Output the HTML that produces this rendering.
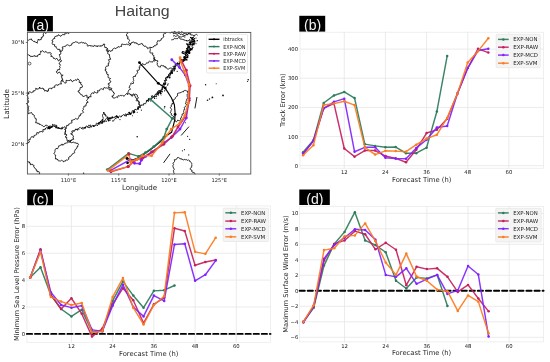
<!DOCTYPE html>
<html><head><meta charset="utf-8"><title>Haitang</title>
<style>html,body{margin:0;padding:0;background:#fff;}svg{display:block;filter:blur(0.3px);}</style>
</head><body>
<svg width="550" height="362" viewBox="0 0 550 362"><text x="142.2" y="15.7" font-size="15.1" text-anchor="middle" fill="#444" font-family="'Liberation Sans', 'DejaVu Sans', sans-serif" textLength="54.9" lengthAdjust="spacingAndGlyphs">Haitang</text>
<polyline points="300,165.7 543.4,165.7" fill="none" stroke="#e6e6e6" stroke-width="0.8" stroke-linejoin="round" stroke-linecap="round" />
<polyline points="300,136.55 543.4,136.55" fill="none" stroke="#e6e6e6" stroke-width="0.8" stroke-linejoin="round" stroke-linecap="round" />
<polyline points="300,107.4 543.4,107.4" fill="none" stroke="#e6e6e6" stroke-width="0.8" stroke-linejoin="round" stroke-linecap="round" />
<polyline points="300,78.25 543.4,78.25" fill="none" stroke="#e6e6e6" stroke-width="0.8" stroke-linejoin="round" stroke-linecap="round" />
<polyline points="300,49.1 543.4,49.1" fill="none" stroke="#e6e6e6" stroke-width="0.8" stroke-linejoin="round" stroke-linecap="round" />
<polyline points="344.26,32.2 344.26,168.2" fill="none" stroke="#e6e6e6" stroke-width="0.8" stroke-linejoin="round" stroke-linecap="round" />
<polyline points="385.42,32.2 385.42,168.2" fill="none" stroke="#e6e6e6" stroke-width="0.8" stroke-linejoin="round" stroke-linecap="round" />
<polyline points="426.58,32.2 426.58,168.2" fill="none" stroke="#e6e6e6" stroke-width="0.8" stroke-linejoin="round" stroke-linecap="round" />
<polyline points="467.74,32.2 467.74,168.2" fill="none" stroke="#e6e6e6" stroke-width="0.8" stroke-linejoin="round" stroke-linecap="round" />
<polyline points="508.9,32.2 508.9,168.2" fill="none" stroke="#e6e6e6" stroke-width="0.8" stroke-linejoin="round" stroke-linecap="round" />
<rect x="300" y="32.2" width="243.4" height="136" fill="none" stroke="#e8e8e8" stroke-width="0.7" />
<text x="298.1" y="167.65" font-size="5.3" text-anchor="end" fill="#141414" font-family="'DejaVu Sans', 'Liberation Sans', sans-serif" >0</text>
<text x="298.1" y="138.5" font-size="5.3" text-anchor="end" fill="#141414" font-family="'DejaVu Sans', 'Liberation Sans', sans-serif" >100</text>
<text x="298.1" y="109.35" font-size="5.3" text-anchor="end" fill="#141414" font-family="'DejaVu Sans', 'Liberation Sans', sans-serif" >200</text>
<text x="298.1" y="80.2" font-size="5.3" text-anchor="end" fill="#141414" font-family="'DejaVu Sans', 'Liberation Sans', sans-serif" >300</text>
<text x="298.1" y="51.05" font-size="5.3" text-anchor="end" fill="#141414" font-family="'DejaVu Sans', 'Liberation Sans', sans-serif" >400</text>
<text x="344.26" y="174.2" font-size="5.3" text-anchor="middle" fill="#141414" font-family="'DejaVu Sans', 'Liberation Sans', sans-serif" >12</text>
<text x="385.42" y="174.2" font-size="5.3" text-anchor="middle" fill="#141414" font-family="'DejaVu Sans', 'Liberation Sans', sans-serif" >24</text>
<text x="426.58" y="174.2" font-size="5.3" text-anchor="middle" fill="#141414" font-family="'DejaVu Sans', 'Liberation Sans', sans-serif" >36</text>
<text x="467.74" y="174.2" font-size="5.3" text-anchor="middle" fill="#141414" font-family="'DejaVu Sans', 'Liberation Sans', sans-serif" >48</text>
<text x="508.9" y="174.2" font-size="5.3" text-anchor="middle" fill="#141414" font-family="'DejaVu Sans', 'Liberation Sans', sans-serif" >60</text>
<text x="421.7" y="181.6" font-size="6.8" text-anchor="middle" fill="#262626" font-family="'DejaVu Sans', 'Liberation Sans', sans-serif" >Forecast Time (h)</text>
<text x="285.3" y="100.2" font-size="6.7" text-anchor="middle" fill="#262626" font-family="'DejaVu Sans', 'Liberation Sans', sans-serif" transform="rotate(-90 285.3 100.2)" >Track Error (km)</text>
<polyline points="303.1,152.29 313.39,140.34 323.68,103.03 333.97,95.45 344.26,91.95 354.55,98.07 364.84,144.13 375.13,145.88 385.42,147.34 395.71,147.04 406,153.17 416.29,153.17 426.58,147.63 436.87,111.48 447.16,56.1" fill="none" stroke="#2b7b5a" stroke-width="1.45" stroke-linejoin="round" stroke-linecap="round" stroke-opacity="0.92"/>
<circle cx="303.1" cy="152.29" r="1.25" fill="#2b7b5a"/>
<circle cx="313.39" cy="140.34" r="1.25" fill="#2b7b5a"/>
<circle cx="323.68" cy="103.03" r="1.25" fill="#2b7b5a"/>
<circle cx="333.97" cy="95.45" r="1.25" fill="#2b7b5a"/>
<circle cx="344.26" cy="91.95" r="1.25" fill="#2b7b5a"/>
<circle cx="354.55" cy="98.07" r="1.25" fill="#2b7b5a"/>
<circle cx="364.84" cy="144.13" r="1.25" fill="#2b7b5a"/>
<circle cx="375.13" cy="145.88" r="1.25" fill="#2b7b5a"/>
<circle cx="385.42" cy="147.34" r="1.25" fill="#2b7b5a"/>
<circle cx="395.71" cy="147.04" r="1.25" fill="#2b7b5a"/>
<circle cx="406" cy="153.17" r="1.25" fill="#2b7b5a"/>
<circle cx="416.29" cy="153.17" r="1.25" fill="#2b7b5a"/>
<circle cx="426.58" cy="147.63" r="1.25" fill="#2b7b5a"/>
<circle cx="436.87" cy="111.48" r="1.25" fill="#2b7b5a"/>
<circle cx="447.16" cy="56.1" r="1.25" fill="#2b7b5a"/>
<polyline points="303.1,154.04 313.39,140.92 323.68,107.98 333.97,103.61 344.26,148.5 354.55,156.66 364.84,150.54 375.13,150.54 385.42,156.08 395.71,158.41 406,162.2 416.29,149.67 426.58,133.05 436.87,129.85 447.16,118.77 457.45,93.41 467.74,68.05 478.03,48.81 488.32,52.6" fill="none" stroke="#c41f5c" stroke-width="1.45" stroke-linejoin="round" stroke-linecap="round" stroke-opacity="0.92"/>
<circle cx="303.1" cy="154.04" r="1.25" fill="#c41f5c"/>
<circle cx="313.39" cy="140.92" r="1.25" fill="#c41f5c"/>
<circle cx="323.68" cy="107.98" r="1.25" fill="#c41f5c"/>
<circle cx="333.97" cy="103.61" r="1.25" fill="#c41f5c"/>
<circle cx="344.26" cy="148.5" r="1.25" fill="#c41f5c"/>
<circle cx="354.55" cy="156.66" r="1.25" fill="#c41f5c"/>
<circle cx="364.84" cy="150.54" r="1.25" fill="#c41f5c"/>
<circle cx="375.13" cy="150.54" r="1.25" fill="#c41f5c"/>
<circle cx="385.42" cy="156.08" r="1.25" fill="#c41f5c"/>
<circle cx="395.71" cy="158.41" r="1.25" fill="#c41f5c"/>
<circle cx="406" cy="162.2" r="1.25" fill="#c41f5c"/>
<circle cx="416.29" cy="149.67" r="1.25" fill="#c41f5c"/>
<circle cx="426.58" cy="133.05" r="1.25" fill="#c41f5c"/>
<circle cx="436.87" cy="129.85" r="1.25" fill="#c41f5c"/>
<circle cx="447.16" cy="118.77" r="1.25" fill="#c41f5c"/>
<circle cx="457.45" cy="93.41" r="1.25" fill="#c41f5c"/>
<circle cx="467.74" cy="68.05" r="1.25" fill="#c41f5c"/>
<circle cx="478.03" cy="48.81" r="1.25" fill="#c41f5c"/>
<circle cx="488.32" cy="52.6" r="1.25" fill="#c41f5c"/>
<polyline points="303.1,153.46 313.39,140.92 323.68,108.57 333.97,101.86 344.26,98.65 354.55,151.71 364.84,147.34 375.13,147.34 385.42,157.83 395.71,158.41 406,158.7 416.29,147.92 426.58,139.76 436.87,127.51 447.16,126.06 457.45,93.41 467.74,68.05 478.03,50.56 488.32,48.81" fill="none" stroke="#7f22ff" stroke-width="1.45" stroke-linejoin="round" stroke-linecap="round" stroke-opacity="0.92"/>
<circle cx="303.1" cy="153.46" r="1.25" fill="#7f22ff"/>
<circle cx="313.39" cy="140.92" r="1.25" fill="#7f22ff"/>
<circle cx="323.68" cy="108.57" r="1.25" fill="#7f22ff"/>
<circle cx="333.97" cy="101.86" r="1.25" fill="#7f22ff"/>
<circle cx="344.26" cy="98.65" r="1.25" fill="#7f22ff"/>
<circle cx="354.55" cy="151.71" r="1.25" fill="#7f22ff"/>
<circle cx="364.84" cy="147.34" r="1.25" fill="#7f22ff"/>
<circle cx="375.13" cy="147.34" r="1.25" fill="#7f22ff"/>
<circle cx="385.42" cy="157.83" r="1.25" fill="#7f22ff"/>
<circle cx="395.71" cy="158.41" r="1.25" fill="#7f22ff"/>
<circle cx="406" cy="158.7" r="1.25" fill="#7f22ff"/>
<circle cx="416.29" cy="147.92" r="1.25" fill="#7f22ff"/>
<circle cx="426.58" cy="139.76" r="1.25" fill="#7f22ff"/>
<circle cx="436.87" cy="127.51" r="1.25" fill="#7f22ff"/>
<circle cx="447.16" cy="126.06" r="1.25" fill="#7f22ff"/>
<circle cx="457.45" cy="93.41" r="1.25" fill="#7f22ff"/>
<circle cx="467.74" cy="68.05" r="1.25" fill="#7f22ff"/>
<circle cx="478.03" cy="50.56" r="1.25" fill="#7f22ff"/>
<circle cx="488.32" cy="48.81" r="1.25" fill="#7f22ff"/>
<polyline points="303.1,155.21 313.39,145.29 323.68,105.07 333.97,103.61 344.26,101.28 354.55,105.07 364.84,147.34 375.13,154.62 385.42,150.83 395.71,151.12 406,151.71 416.29,144.71 426.58,138.59 436.87,134.8 447.16,117.89 457.45,93.41 467.74,62.51 478.03,51.14 488.32,38.31" fill="none" stroke="#fb7b1f" stroke-width="1.45" stroke-linejoin="round" stroke-linecap="round" stroke-opacity="0.92"/>
<circle cx="303.1" cy="155.21" r="1.25" fill="#fb7b1f"/>
<circle cx="313.39" cy="145.29" r="1.25" fill="#fb7b1f"/>
<circle cx="323.68" cy="105.07" r="1.25" fill="#fb7b1f"/>
<circle cx="333.97" cy="103.61" r="1.25" fill="#fb7b1f"/>
<circle cx="344.26" cy="101.28" r="1.25" fill="#fb7b1f"/>
<circle cx="354.55" cy="105.07" r="1.25" fill="#fb7b1f"/>
<circle cx="364.84" cy="147.34" r="1.25" fill="#fb7b1f"/>
<circle cx="375.13" cy="154.62" r="1.25" fill="#fb7b1f"/>
<circle cx="385.42" cy="150.83" r="1.25" fill="#fb7b1f"/>
<circle cx="395.71" cy="151.12" r="1.25" fill="#fb7b1f"/>
<circle cx="406" cy="151.71" r="1.25" fill="#fb7b1f"/>
<circle cx="416.29" cy="144.71" r="1.25" fill="#fb7b1f"/>
<circle cx="426.58" cy="138.59" r="1.25" fill="#fb7b1f"/>
<circle cx="436.87" cy="134.8" r="1.25" fill="#fb7b1f"/>
<circle cx="447.16" cy="117.89" r="1.25" fill="#fb7b1f"/>
<circle cx="457.45" cy="93.41" r="1.25" fill="#fb7b1f"/>
<circle cx="467.74" cy="62.51" r="1.25" fill="#fb7b1f"/>
<circle cx="478.03" cy="51.14" r="1.25" fill="#fb7b1f"/>
<circle cx="488.32" cy="38.31" r="1.25" fill="#fb7b1f"/>
<rect x="496.1" y="34.3" width="44.1" height="33.4" fill="#f4f4f4" stroke="#e2e2e2" stroke-width="0.6" rx="1"/>
<line x1="498" y1="39.4" x2="508.7" y2="39.4" stroke="#2b7b5a" stroke-width="1.45" stroke-opacity="0.92"/>
<circle cx="503.35" cy="39.4" r="1.25" fill="#2b7b5a"/>
<text x="513.2" y="41.45" font-size="5.55" text-anchor="start" fill="#1c1c1c" font-family="'DejaVu Sans', 'Liberation Sans', sans-serif" textLength="24.4" lengthAdjust="spacingAndGlyphs">EXP-NON</text>
<line x1="498" y1="47.2" x2="508.7" y2="47.2" stroke="#c41f5c" stroke-width="1.45" stroke-opacity="0.92"/>
<circle cx="503.35" cy="47.2" r="1.25" fill="#c41f5c"/>
<text x="513.2" y="49.25" font-size="5.55" text-anchor="start" fill="#1c1c1c" font-family="'DejaVu Sans', 'Liberation Sans', sans-serif" textLength="25.0" lengthAdjust="spacingAndGlyphs">EXP-RAW</text>
<line x1="498" y1="55.1" x2="508.7" y2="55.1" stroke="#7f22ff" stroke-width="1.45" stroke-opacity="0.92"/>
<circle cx="503.35" cy="55.1" r="1.25" fill="#7f22ff"/>
<text x="513.2" y="57.15" font-size="5.55" text-anchor="start" fill="#1c1c1c" font-family="'DejaVu Sans', 'Liberation Sans', sans-serif" textLength="24.7" lengthAdjust="spacingAndGlyphs">EXP-MCD</text>
<line x1="498" y1="63.2" x2="508.7" y2="63.2" stroke="#fb7b1f" stroke-width="1.45" stroke-opacity="0.92"/>
<circle cx="503.35" cy="63.2" r="1.25" fill="#fb7b1f"/>
<text x="513.2" y="65.25" font-size="5.55" text-anchor="start" fill="#1c1c1c" font-family="'DejaVu Sans', 'Liberation Sans', sans-serif" textLength="24.2" lengthAdjust="spacingAndGlyphs">EXP-SVM</text>
<polyline points="26.9,333.9 270.5,333.9" fill="none" stroke="#e6e6e6" stroke-width="0.8" stroke-linejoin="round" stroke-linecap="round" />
<polyline points="26.9,307 270.5,307" fill="none" stroke="#e6e6e6" stroke-width="0.8" stroke-linejoin="round" stroke-linecap="round" />
<polyline points="26.9,280.1 270.5,280.1" fill="none" stroke="#e6e6e6" stroke-width="0.8" stroke-linejoin="round" stroke-linecap="round" />
<polyline points="26.9,253.2 270.5,253.2" fill="none" stroke="#e6e6e6" stroke-width="0.8" stroke-linejoin="round" stroke-linecap="round" />
<polyline points="26.9,226.3 270.5,226.3" fill="none" stroke="#e6e6e6" stroke-width="0.8" stroke-linejoin="round" stroke-linecap="round" />
<polyline points="71.42,205.9 71.42,342.3" fill="none" stroke="#e6e6e6" stroke-width="0.8" stroke-linejoin="round" stroke-linecap="round" />
<polyline points="112.64,205.9 112.64,342.3" fill="none" stroke="#e6e6e6" stroke-width="0.8" stroke-linejoin="round" stroke-linecap="round" />
<polyline points="153.86,205.9 153.86,342.3" fill="none" stroke="#e6e6e6" stroke-width="0.8" stroke-linejoin="round" stroke-linecap="round" />
<polyline points="195.08,205.9 195.08,342.3" fill="none" stroke="#e6e6e6" stroke-width="0.8" stroke-linejoin="round" stroke-linecap="round" />
<polyline points="236.3,205.9 236.3,342.3" fill="none" stroke="#e6e6e6" stroke-width="0.8" stroke-linejoin="round" stroke-linecap="round" />
<rect x="26.9" y="205.9" width="243.6" height="136.4" fill="none" stroke="#e8e8e8" stroke-width="0.7" />
<text x="25" y="335.85" font-size="5.3" text-anchor="end" fill="#141414" font-family="'DejaVu Sans', 'Liberation Sans', sans-serif" >0</text>
<text x="25" y="308.95" font-size="5.3" text-anchor="end" fill="#141414" font-family="'DejaVu Sans', 'Liberation Sans', sans-serif" >2</text>
<text x="25" y="282.05" font-size="5.3" text-anchor="end" fill="#141414" font-family="'DejaVu Sans', 'Liberation Sans', sans-serif" >4</text>
<text x="25" y="255.15" font-size="5.3" text-anchor="end" fill="#141414" font-family="'DejaVu Sans', 'Liberation Sans', sans-serif" >6</text>
<text x="25" y="228.25" font-size="5.3" text-anchor="end" fill="#141414" font-family="'DejaVu Sans', 'Liberation Sans', sans-serif" >8</text>
<text x="71.42" y="348.3" font-size="5.3" text-anchor="middle" fill="#141414" font-family="'DejaVu Sans', 'Liberation Sans', sans-serif" >12</text>
<text x="112.64" y="348.3" font-size="5.3" text-anchor="middle" fill="#141414" font-family="'DejaVu Sans', 'Liberation Sans', sans-serif" >24</text>
<text x="153.86" y="348.3" font-size="5.3" text-anchor="middle" fill="#141414" font-family="'DejaVu Sans', 'Liberation Sans', sans-serif" >36</text>
<text x="195.08" y="348.3" font-size="5.3" text-anchor="middle" fill="#141414" font-family="'DejaVu Sans', 'Liberation Sans', sans-serif" >48</text>
<text x="236.3" y="348.3" font-size="5.3" text-anchor="middle" fill="#141414" font-family="'DejaVu Sans', 'Liberation Sans', sans-serif" >60</text>
<text x="148.7" y="355.7" font-size="6.8" text-anchor="middle" fill="#262626" font-family="'DejaVu Sans', 'Liberation Sans', sans-serif" >Forecast Time (h)</text>
<text x="19.3" y="274.1" font-size="6.7" text-anchor="middle" fill="#262626" font-family="'DejaVu Sans', 'Liberation Sans', sans-serif" transform="rotate(-90 19.3 274.1)" >Minimum Sea Level Pressure Error (hPa)</text>
<polyline points="26.9,333.9 270.5,333.9" fill="none" stroke="#000" stroke-width="1.9" stroke-linejoin="round" stroke-linecap="round" stroke-dasharray="5.2 2.9" stroke-linecap="butt"/>
<polyline points="30.2,277.41 40.5,267.32 50.81,294.89 61.11,309.02 71.42,316.41 81.72,309.69 92.03,331.88 102.34,331.21 112.64,300.95 122.95,281.44 133.25,295.57 143.56,307.67 153.86,290.86 164.16,290.19 174.47,285.48" fill="none" stroke="#2b7b5a" stroke-width="1.45" stroke-linejoin="round" stroke-linecap="round" stroke-opacity="0.92"/>
<circle cx="30.2" cy="277.41" r="1.25" fill="#2b7b5a"/>
<circle cx="40.5" cy="267.32" r="1.25" fill="#2b7b5a"/>
<circle cx="50.81" cy="294.89" r="1.25" fill="#2b7b5a"/>
<circle cx="61.11" cy="309.02" r="1.25" fill="#2b7b5a"/>
<circle cx="71.42" cy="316.41" r="1.25" fill="#2b7b5a"/>
<circle cx="81.72" cy="309.69" r="1.25" fill="#2b7b5a"/>
<circle cx="92.03" cy="331.88" r="1.25" fill="#2b7b5a"/>
<circle cx="102.34" cy="331.21" r="1.25" fill="#2b7b5a"/>
<circle cx="112.64" cy="300.95" r="1.25" fill="#2b7b5a"/>
<circle cx="122.95" cy="281.44" r="1.25" fill="#2b7b5a"/>
<circle cx="133.25" cy="295.57" r="1.25" fill="#2b7b5a"/>
<circle cx="143.56" cy="307.67" r="1.25" fill="#2b7b5a"/>
<circle cx="153.86" cy="290.86" r="1.25" fill="#2b7b5a"/>
<circle cx="164.16" cy="290.19" r="1.25" fill="#2b7b5a"/>
<circle cx="174.47" cy="285.48" r="1.25" fill="#2b7b5a"/>
<polyline points="30.2,277.41 40.5,249.16 50.81,294.89 61.11,309.02 71.42,298.26 81.72,313.72 92.03,336.59 102.34,328.52 112.64,304.31 122.95,288.17 133.25,300.27 143.56,323.14 153.86,304.31 164.16,297.58 174.47,228.32 184.77,231.01 195.08,265.31 205.38,261.94 215.69,259.92" fill="none" stroke="#c41f5c" stroke-width="1.45" stroke-linejoin="round" stroke-linecap="round" stroke-opacity="0.92"/>
<circle cx="30.2" cy="277.41" r="1.25" fill="#c41f5c"/>
<circle cx="40.5" cy="249.16" r="1.25" fill="#c41f5c"/>
<circle cx="50.81" cy="294.89" r="1.25" fill="#c41f5c"/>
<circle cx="61.11" cy="309.02" r="1.25" fill="#c41f5c"/>
<circle cx="71.42" cy="298.26" r="1.25" fill="#c41f5c"/>
<circle cx="81.72" cy="313.72" r="1.25" fill="#c41f5c"/>
<circle cx="92.03" cy="336.59" r="1.25" fill="#c41f5c"/>
<circle cx="102.34" cy="328.52" r="1.25" fill="#c41f5c"/>
<circle cx="112.64" cy="304.31" r="1.25" fill="#c41f5c"/>
<circle cx="122.95" cy="288.17" r="1.25" fill="#c41f5c"/>
<circle cx="133.25" cy="300.27" r="1.25" fill="#c41f5c"/>
<circle cx="143.56" cy="323.14" r="1.25" fill="#c41f5c"/>
<circle cx="153.86" cy="304.31" r="1.25" fill="#c41f5c"/>
<circle cx="164.16" cy="297.58" r="1.25" fill="#c41f5c"/>
<circle cx="174.47" cy="228.32" r="1.25" fill="#c41f5c"/>
<circle cx="184.77" cy="231.01" r="1.25" fill="#c41f5c"/>
<circle cx="195.08" cy="265.31" r="1.25" fill="#c41f5c"/>
<circle cx="205.38" cy="261.94" r="1.25" fill="#c41f5c"/>
<circle cx="215.69" cy="259.92" r="1.25" fill="#c41f5c"/>
<polyline points="30.2,277.41 40.5,250.51 50.81,292.2 61.11,304.98 71.42,307.67 81.72,305.65 92.03,329.86 102.34,331.21 112.64,305.65 122.95,284.81 133.25,307 143.56,316.41 153.86,295.57 164.16,300.95 174.47,244.46 184.77,243.78 195.08,280.77 205.38,274.72 215.69,260.6" fill="none" stroke="#7f22ff" stroke-width="1.45" stroke-linejoin="round" stroke-linecap="round" stroke-opacity="0.92"/>
<circle cx="30.2" cy="277.41" r="1.25" fill="#7f22ff"/>
<circle cx="40.5" cy="250.51" r="1.25" fill="#7f22ff"/>
<circle cx="50.81" cy="292.2" r="1.25" fill="#7f22ff"/>
<circle cx="61.11" cy="304.98" r="1.25" fill="#7f22ff"/>
<circle cx="71.42" cy="307.67" r="1.25" fill="#7f22ff"/>
<circle cx="81.72" cy="305.65" r="1.25" fill="#7f22ff"/>
<circle cx="92.03" cy="329.86" r="1.25" fill="#7f22ff"/>
<circle cx="102.34" cy="331.21" r="1.25" fill="#7f22ff"/>
<circle cx="112.64" cy="305.65" r="1.25" fill="#7f22ff"/>
<circle cx="122.95" cy="284.81" r="1.25" fill="#7f22ff"/>
<circle cx="133.25" cy="307" r="1.25" fill="#7f22ff"/>
<circle cx="143.56" cy="316.41" r="1.25" fill="#7f22ff"/>
<circle cx="153.86" cy="295.57" r="1.25" fill="#7f22ff"/>
<circle cx="164.16" cy="300.95" r="1.25" fill="#7f22ff"/>
<circle cx="174.47" cy="244.46" r="1.25" fill="#7f22ff"/>
<circle cx="184.77" cy="243.78" r="1.25" fill="#7f22ff"/>
<circle cx="195.08" cy="280.77" r="1.25" fill="#7f22ff"/>
<circle cx="205.38" cy="274.72" r="1.25" fill="#7f22ff"/>
<circle cx="215.69" cy="260.6" r="1.25" fill="#7f22ff"/>
<polyline points="30.2,277.41 40.5,251.85 50.81,296.91 61.11,301.62 71.42,304.98 81.72,302.96 92.03,332.55 102.34,331.21 112.64,296.91 122.95,278.08 133.25,307.67 143.56,324.48 153.86,304.98 164.16,296.24 174.47,212.85 184.77,212.18 195.08,251.85 205.38,253.87 215.69,237.73" fill="none" stroke="#fb7b1f" stroke-width="1.45" stroke-linejoin="round" stroke-linecap="round" stroke-opacity="0.92"/>
<circle cx="30.2" cy="277.41" r="1.25" fill="#fb7b1f"/>
<circle cx="40.5" cy="251.85" r="1.25" fill="#fb7b1f"/>
<circle cx="50.81" cy="296.91" r="1.25" fill="#fb7b1f"/>
<circle cx="61.11" cy="301.62" r="1.25" fill="#fb7b1f"/>
<circle cx="71.42" cy="304.98" r="1.25" fill="#fb7b1f"/>
<circle cx="81.72" cy="302.96" r="1.25" fill="#fb7b1f"/>
<circle cx="92.03" cy="332.55" r="1.25" fill="#fb7b1f"/>
<circle cx="102.34" cy="331.21" r="1.25" fill="#fb7b1f"/>
<circle cx="112.64" cy="296.91" r="1.25" fill="#fb7b1f"/>
<circle cx="122.95" cy="278.08" r="1.25" fill="#fb7b1f"/>
<circle cx="133.25" cy="307.67" r="1.25" fill="#fb7b1f"/>
<circle cx="143.56" cy="324.48" r="1.25" fill="#fb7b1f"/>
<circle cx="153.86" cy="304.98" r="1.25" fill="#fb7b1f"/>
<circle cx="164.16" cy="296.24" r="1.25" fill="#fb7b1f"/>
<circle cx="174.47" cy="212.85" r="1.25" fill="#fb7b1f"/>
<circle cx="184.77" cy="212.18" r="1.25" fill="#fb7b1f"/>
<circle cx="195.08" cy="251.85" r="1.25" fill="#fb7b1f"/>
<circle cx="205.38" cy="253.87" r="1.25" fill="#fb7b1f"/>
<circle cx="215.69" cy="237.73" r="1.25" fill="#fb7b1f"/>
<rect x="223.1" y="208.2" width="45.5" height="33.3" fill="#f4f4f4" stroke="#e2e2e2" stroke-width="0.6" rx="1"/>
<line x1="225.3" y1="212.8" x2="236.3" y2="212.8" stroke="#2b7b5a" stroke-width="1.45" stroke-opacity="0.92"/>
<circle cx="230.8" cy="212.8" r="1.25" fill="#2b7b5a"/>
<text x="241" y="214.85" font-size="5.55" text-anchor="start" fill="#1c1c1c" font-family="'DejaVu Sans', 'Liberation Sans', sans-serif" textLength="24.4" lengthAdjust="spacingAndGlyphs">EXP-NON</text>
<line x1="225.3" y1="221.1" x2="236.3" y2="221.1" stroke="#c41f5c" stroke-width="1.45" stroke-opacity="0.92"/>
<circle cx="230.8" cy="221.1" r="1.25" fill="#c41f5c"/>
<text x="241" y="223.15" font-size="5.55" text-anchor="start" fill="#1c1c1c" font-family="'DejaVu Sans', 'Liberation Sans', sans-serif" textLength="25.0" lengthAdjust="spacingAndGlyphs">EXP-RAW</text>
<line x1="225.3" y1="228.8" x2="236.3" y2="228.8" stroke="#7f22ff" stroke-width="1.45" stroke-opacity="0.92"/>
<circle cx="230.8" cy="228.8" r="1.25" fill="#7f22ff"/>
<text x="241" y="230.85" font-size="5.55" text-anchor="start" fill="#1c1c1c" font-family="'DejaVu Sans', 'Liberation Sans', sans-serif" textLength="24.7" lengthAdjust="spacingAndGlyphs">EXP-MCD</text>
<line x1="225.3" y1="236.8" x2="236.3" y2="236.8" stroke="#fb7b1f" stroke-width="1.45" stroke-opacity="0.92"/>
<circle cx="230.8" cy="236.8" r="1.25" fill="#fb7b1f"/>
<text x="241" y="238.85" font-size="5.55" text-anchor="start" fill="#1c1c1c" font-family="'DejaVu Sans', 'Liberation Sans', sans-serif" textLength="24.2" lengthAdjust="spacingAndGlyphs">EXP-SVM</text>
<polyline points="299.6,337.3 543.6,337.3" fill="none" stroke="#e6e6e6" stroke-width="0.8" stroke-linejoin="round" stroke-linecap="round" />
<polyline points="299.6,321.8 543.6,321.8" fill="none" stroke="#e6e6e6" stroke-width="0.8" stroke-linejoin="round" stroke-linecap="round" />
<polyline points="299.6,306.3 543.6,306.3" fill="none" stroke="#e6e6e6" stroke-width="0.8" stroke-linejoin="round" stroke-linecap="round" />
<polyline points="299.6,290.8 543.6,290.8" fill="none" stroke="#e6e6e6" stroke-width="0.8" stroke-linejoin="round" stroke-linecap="round" />
<polyline points="299.6,275.3 543.6,275.3" fill="none" stroke="#e6e6e6" stroke-width="0.8" stroke-linejoin="round" stroke-linecap="round" />
<polyline points="299.6,259.8 543.6,259.8" fill="none" stroke="#e6e6e6" stroke-width="0.8" stroke-linejoin="round" stroke-linecap="round" />
<polyline points="299.6,244.3 543.6,244.3" fill="none" stroke="#e6e6e6" stroke-width="0.8" stroke-linejoin="round" stroke-linecap="round" />
<polyline points="299.6,228.8 543.6,228.8" fill="none" stroke="#e6e6e6" stroke-width="0.8" stroke-linejoin="round" stroke-linecap="round" />
<polyline points="299.6,213.3 543.6,213.3" fill="none" stroke="#e6e6e6" stroke-width="0.8" stroke-linejoin="round" stroke-linecap="round" />
<polyline points="344.56,206.3 344.56,341.9" fill="none" stroke="#e6e6e6" stroke-width="0.8" stroke-linejoin="round" stroke-linecap="round" />
<polyline points="385.72,206.3 385.72,341.9" fill="none" stroke="#e6e6e6" stroke-width="0.8" stroke-linejoin="round" stroke-linecap="round" />
<polyline points="426.88,206.3 426.88,341.9" fill="none" stroke="#e6e6e6" stroke-width="0.8" stroke-linejoin="round" stroke-linecap="round" />
<polyline points="468.04,206.3 468.04,341.9" fill="none" stroke="#e6e6e6" stroke-width="0.8" stroke-linejoin="round" stroke-linecap="round" />
<polyline points="509.2,206.3 509.2,341.9" fill="none" stroke="#e6e6e6" stroke-width="0.8" stroke-linejoin="round" stroke-linecap="round" />
<rect x="299.6" y="206.3" width="244" height="135.6" fill="none" stroke="#e8e8e8" stroke-width="0.7" />
<text x="298.4" y="339.25" font-size="5.3" text-anchor="end" fill="#141414" font-family="'DejaVu Sans', 'Liberation Sans', sans-serif" >−6</text>
<text x="298.4" y="323.75" font-size="5.3" text-anchor="end" fill="#141414" font-family="'DejaVu Sans', 'Liberation Sans', sans-serif" >−4</text>
<text x="298.4" y="308.25" font-size="5.3" text-anchor="end" fill="#141414" font-family="'DejaVu Sans', 'Liberation Sans', sans-serif" >−2</text>
<text x="298.4" y="292.75" font-size="5.3" text-anchor="end" fill="#141414" font-family="'DejaVu Sans', 'Liberation Sans', sans-serif" >0</text>
<text x="298.4" y="277.25" font-size="5.3" text-anchor="end" fill="#141414" font-family="'DejaVu Sans', 'Liberation Sans', sans-serif" >2</text>
<text x="298.4" y="261.75" font-size="5.3" text-anchor="end" fill="#141414" font-family="'DejaVu Sans', 'Liberation Sans', sans-serif" >4</text>
<text x="298.4" y="246.25" font-size="5.3" text-anchor="end" fill="#141414" font-family="'DejaVu Sans', 'Liberation Sans', sans-serif" >6</text>
<text x="298.4" y="230.75" font-size="5.3" text-anchor="end" fill="#141414" font-family="'DejaVu Sans', 'Liberation Sans', sans-serif" >8</text>
<text x="298.4" y="215.25" font-size="5.3" text-anchor="end" fill="#141414" font-family="'DejaVu Sans', 'Liberation Sans', sans-serif" >10</text>
<text x="344.56" y="347.9" font-size="5.3" text-anchor="middle" fill="#141414" font-family="'DejaVu Sans', 'Liberation Sans', sans-serif" >12</text>
<text x="385.72" y="347.9" font-size="5.3" text-anchor="middle" fill="#141414" font-family="'DejaVu Sans', 'Liberation Sans', sans-serif" >24</text>
<text x="426.88" y="347.9" font-size="5.3" text-anchor="middle" fill="#141414" font-family="'DejaVu Sans', 'Liberation Sans', sans-serif" >36</text>
<text x="468.04" y="347.9" font-size="5.3" text-anchor="middle" fill="#141414" font-family="'DejaVu Sans', 'Liberation Sans', sans-serif" >48</text>
<text x="509.2" y="347.9" font-size="5.3" text-anchor="middle" fill="#141414" font-family="'DejaVu Sans', 'Liberation Sans', sans-serif" >60</text>
<text x="421.6" y="355.3" font-size="6.8" text-anchor="middle" fill="#262626" font-family="'DejaVu Sans', 'Liberation Sans', sans-serif" >Forecast Time (h)</text>
<text x="288.4" y="274.1" font-size="6.7" text-anchor="middle" fill="#262626" font-family="'DejaVu Sans', 'Liberation Sans', sans-serif" transform="rotate(-90 288.4 274.1)" >Maximum Surface Wind Error (m/s)</text>
<polyline points="299.6,290.8 543.6,290.8" fill="none" stroke="#000" stroke-width="1.9" stroke-linejoin="round" stroke-linecap="round" stroke-dasharray="5.2 2.9" stroke-linecap="butt"/>
<polyline points="303.4,321.8 313.69,307.85 323.98,265.61 334.27,243.91 344.56,231.9 354.85,212.14 365.14,240.43 375.43,245.08 385.72,252.28 396.01,280.73 406.3,288.48 416.59,277.39 426.88,278.4 437.17,274.91 447.46,305.91" fill="none" stroke="#2b7b5a" stroke-width="1.45" stroke-linejoin="round" stroke-linecap="round" stroke-opacity="0.92"/>
<circle cx="303.4" cy="321.8" r="1.25" fill="#2b7b5a"/>
<circle cx="313.69" cy="307.85" r="1.25" fill="#2b7b5a"/>
<circle cx="323.98" cy="265.61" r="1.25" fill="#2b7b5a"/>
<circle cx="334.27" cy="243.91" r="1.25" fill="#2b7b5a"/>
<circle cx="344.56" cy="231.9" r="1.25" fill="#2b7b5a"/>
<circle cx="354.85" cy="212.14" r="1.25" fill="#2b7b5a"/>
<circle cx="365.14" cy="240.43" r="1.25" fill="#2b7b5a"/>
<circle cx="375.43" cy="245.08" r="1.25" fill="#2b7b5a"/>
<circle cx="385.72" cy="252.28" r="1.25" fill="#2b7b5a"/>
<circle cx="396.01" cy="280.73" r="1.25" fill="#2b7b5a"/>
<circle cx="406.3" cy="288.48" r="1.25" fill="#2b7b5a"/>
<circle cx="416.59" cy="277.39" r="1.25" fill="#2b7b5a"/>
<circle cx="426.88" cy="278.4" r="1.25" fill="#2b7b5a"/>
<circle cx="437.17" cy="274.91" r="1.25" fill="#2b7b5a"/>
<circle cx="447.46" cy="305.91" r="1.25" fill="#2b7b5a"/>
<polyline points="303.4,321.8 313.69,306.3 323.98,260.57 334.27,243.91 344.56,240.43 354.85,231.12 365.14,234.23 375.43,249.34 385.72,242.75 396.01,249.73 406.3,285.22 416.59,266.78 426.88,269.1 437.17,268.32 447.46,276.85 457.75,291.88 468.04,284.91 478.33,298.55 488.62,311.34" fill="none" stroke="#c41f5c" stroke-width="1.45" stroke-linejoin="round" stroke-linecap="round" stroke-opacity="0.92"/>
<circle cx="303.4" cy="321.8" r="1.25" fill="#c41f5c"/>
<circle cx="313.69" cy="306.3" r="1.25" fill="#c41f5c"/>
<circle cx="323.98" cy="260.57" r="1.25" fill="#c41f5c"/>
<circle cx="334.27" cy="243.91" r="1.25" fill="#c41f5c"/>
<circle cx="344.56" cy="240.43" r="1.25" fill="#c41f5c"/>
<circle cx="354.85" cy="231.12" r="1.25" fill="#c41f5c"/>
<circle cx="365.14" cy="234.23" r="1.25" fill="#c41f5c"/>
<circle cx="375.43" cy="249.34" r="1.25" fill="#c41f5c"/>
<circle cx="385.72" cy="242.75" r="1.25" fill="#c41f5c"/>
<circle cx="396.01" cy="249.73" r="1.25" fill="#c41f5c"/>
<circle cx="406.3" cy="285.22" r="1.25" fill="#c41f5c"/>
<circle cx="416.59" cy="266.78" r="1.25" fill="#c41f5c"/>
<circle cx="426.88" cy="269.1" r="1.25" fill="#c41f5c"/>
<circle cx="437.17" cy="268.32" r="1.25" fill="#c41f5c"/>
<circle cx="447.46" cy="276.85" r="1.25" fill="#c41f5c"/>
<circle cx="457.75" cy="291.88" r="1.25" fill="#c41f5c"/>
<circle cx="468.04" cy="284.91" r="1.25" fill="#c41f5c"/>
<circle cx="478.33" cy="298.55" r="1.25" fill="#c41f5c"/>
<circle cx="488.62" cy="311.34" r="1.25" fill="#c41f5c"/>
<polyline points="303.4,322.57 313.69,306.3 323.98,258.64 334.27,245.08 344.56,237.71 354.85,229.19 365.14,229.96 375.43,239.65 385.72,274.91 396.01,276.85 406.3,268.32 416.59,283.82 426.88,279.18 437.17,274.91 447.46,293.9 457.75,290.41 468.04,266 478.33,274.53 488.62,336.53" fill="none" stroke="#7f22ff" stroke-width="1.45" stroke-linejoin="round" stroke-linecap="round" stroke-opacity="0.92"/>
<circle cx="303.4" cy="322.57" r="1.25" fill="#7f22ff"/>
<circle cx="313.69" cy="306.3" r="1.25" fill="#7f22ff"/>
<circle cx="323.98" cy="258.64" r="1.25" fill="#7f22ff"/>
<circle cx="334.27" cy="245.08" r="1.25" fill="#7f22ff"/>
<circle cx="344.56" cy="237.71" r="1.25" fill="#7f22ff"/>
<circle cx="354.85" cy="229.19" r="1.25" fill="#7f22ff"/>
<circle cx="365.14" cy="229.96" r="1.25" fill="#7f22ff"/>
<circle cx="375.43" cy="239.65" r="1.25" fill="#7f22ff"/>
<circle cx="385.72" cy="274.91" r="1.25" fill="#7f22ff"/>
<circle cx="396.01" cy="276.85" r="1.25" fill="#7f22ff"/>
<circle cx="406.3" cy="268.32" r="1.25" fill="#7f22ff"/>
<circle cx="416.59" cy="283.82" r="1.25" fill="#7f22ff"/>
<circle cx="426.88" cy="279.18" r="1.25" fill="#7f22ff"/>
<circle cx="437.17" cy="274.91" r="1.25" fill="#7f22ff"/>
<circle cx="447.46" cy="293.9" r="1.25" fill="#7f22ff"/>
<circle cx="457.75" cy="290.41" r="1.25" fill="#7f22ff"/>
<circle cx="468.04" cy="266" r="1.25" fill="#7f22ff"/>
<circle cx="478.33" cy="274.53" r="1.25" fill="#7f22ff"/>
<circle cx="488.62" cy="336.53" r="1.25" fill="#7f22ff"/>
<polyline points="303.4,321.8 313.69,305.14 323.98,250.11 334.27,248.18 344.56,236.16 354.85,235.39 365.14,223.38 375.43,241.2 385.72,262.51 396.01,274.91 406.3,253.6 416.59,276.46 426.88,280.73 437.17,289.64 447.46,291.19 457.75,310.95 468.04,295.45 478.33,301.65 488.62,333.43" fill="none" stroke="#fb7b1f" stroke-width="1.45" stroke-linejoin="round" stroke-linecap="round" stroke-opacity="0.92"/>
<circle cx="303.4" cy="321.8" r="1.25" fill="#fb7b1f"/>
<circle cx="313.69" cy="305.14" r="1.25" fill="#fb7b1f"/>
<circle cx="323.98" cy="250.11" r="1.25" fill="#fb7b1f"/>
<circle cx="334.27" cy="248.18" r="1.25" fill="#fb7b1f"/>
<circle cx="344.56" cy="236.16" r="1.25" fill="#fb7b1f"/>
<circle cx="354.85" cy="235.39" r="1.25" fill="#fb7b1f"/>
<circle cx="365.14" cy="223.38" r="1.25" fill="#fb7b1f"/>
<circle cx="375.43" cy="241.2" r="1.25" fill="#fb7b1f"/>
<circle cx="385.72" cy="262.51" r="1.25" fill="#fb7b1f"/>
<circle cx="396.01" cy="274.91" r="1.25" fill="#fb7b1f"/>
<circle cx="406.3" cy="253.6" r="1.25" fill="#fb7b1f"/>
<circle cx="416.59" cy="276.46" r="1.25" fill="#fb7b1f"/>
<circle cx="426.88" cy="280.73" r="1.25" fill="#fb7b1f"/>
<circle cx="437.17" cy="289.64" r="1.25" fill="#fb7b1f"/>
<circle cx="447.46" cy="291.19" r="1.25" fill="#fb7b1f"/>
<circle cx="457.75" cy="310.95" r="1.25" fill="#fb7b1f"/>
<circle cx="468.04" cy="295.45" r="1.25" fill="#fb7b1f"/>
<circle cx="478.33" cy="301.65" r="1.25" fill="#fb7b1f"/>
<circle cx="488.62" cy="333.43" r="1.25" fill="#fb7b1f"/>
<rect x="495.7" y="208.3" width="45.5" height="33.7" fill="#f4f4f4" stroke="#e2e2e2" stroke-width="0.6" rx="1"/>
<line x1="497.9" y1="212.9" x2="508.7" y2="212.9" stroke="#2b7b5a" stroke-width="1.45" stroke-opacity="0.92"/>
<circle cx="503.3" cy="212.9" r="1.25" fill="#2b7b5a"/>
<text x="513.3" y="214.95" font-size="5.55" text-anchor="start" fill="#1c1c1c" font-family="'DejaVu Sans', 'Liberation Sans', sans-serif" textLength="24.4" lengthAdjust="spacingAndGlyphs">EXP-NON</text>
<line x1="497.9" y1="221.0" x2="508.7" y2="221.0" stroke="#c41f5c" stroke-width="1.45" stroke-opacity="0.92"/>
<circle cx="503.3" cy="221" r="1.25" fill="#c41f5c"/>
<text x="513.3" y="223.05" font-size="5.55" text-anchor="start" fill="#1c1c1c" font-family="'DejaVu Sans', 'Liberation Sans', sans-serif" textLength="25.0" lengthAdjust="spacingAndGlyphs">EXP-RAW</text>
<line x1="497.9" y1="228.7" x2="508.7" y2="228.7" stroke="#7f22ff" stroke-width="1.45" stroke-opacity="0.92"/>
<circle cx="503.3" cy="228.7" r="1.25" fill="#7f22ff"/>
<text x="513.3" y="230.75" font-size="5.55" text-anchor="start" fill="#1c1c1c" font-family="'DejaVu Sans', 'Liberation Sans', sans-serif" textLength="24.7" lengthAdjust="spacingAndGlyphs">EXP-MCD</text>
<line x1="497.9" y1="237.0" x2="508.7" y2="237.0" stroke="#fb7b1f" stroke-width="1.45" stroke-opacity="0.92"/>
<circle cx="503.3" cy="237" r="1.25" fill="#fb7b1f"/>
<text x="513.3" y="239.05" font-size="5.55" text-anchor="start" fill="#1c1c1c" font-family="'DejaVu Sans', 'Liberation Sans', sans-serif" textLength="24.2" lengthAdjust="spacingAndGlyphs">EXP-SVM</text>
<rect x="27.1" y="16" width="25.8" height="15.4" fill="#000" stroke="none" stroke-width="1" />
<text x="40.3" y="29.9" font-size="14.0" text-anchor="middle" fill="#f4f4f4" font-family="'Liberation Sans', 'DejaVu Sans', sans-serif" >(a)</text>
<rect x="299.3" y="15.8" width="25.9" height="15.8" fill="#000" stroke="none" stroke-width="1" />
<text x="312.55" y="30.1" font-size="14.0" text-anchor="middle" fill="#f4f4f4" font-family="'Liberation Sans', 'DejaVu Sans', sans-serif" >(b)</text>
<rect x="27.2" y="189.5" width="25.8" height="15.7" fill="#000" stroke="none" stroke-width="1" />
<text x="40.4" y="203.7" font-size="14.0" text-anchor="middle" fill="#f4f4f4" font-family="'Liberation Sans', 'DejaVu Sans', sans-serif" >(c)</text>
<rect x="299.3" y="189.5" width="30.5" height="15.5" fill="#000" stroke="none" stroke-width="1" />
<text x="314.85" y="203.5" font-size="14.0" text-anchor="middle" fill="#f4f4f4" font-family="'Liberation Sans', 'DejaVu Sans', sans-serif" >(d)</text>
<polyline points="27.75,40.13 28.4,40.27 29.26,39.52 29.83,39.98 30.79,38.84 31.44,38.95 31.82,40.22 32.44,40.48 33.01,40.94 33.43,41.43 34.32,41.13 34.64,41.92 35.28,42.12 36.07,42 37.27,43.28 37.27,42.28 37.47,41.54 37.78,40.95 37.95,40.17 38.07,39.31 39.13,39.89 40.25,40 40.25,39.16 41.42,39.31 41.59,38.62 41.28,37.52 42.25,37.5 42.36,36.76 42.61,36.14 43.68,36.06 43.46,35.1 43.19,34.12 43.57,33.48 44.25,32.24 45.47,33.32 46.17,32.95 46.8,32.4" fill="none" stroke="#000" stroke-width="0.85" stroke-linejoin="round" stroke-linecap="round" />
<polyline points="68.92,33.36 68.28,33.55 67.16,32.6 66.71,33.25 65.89,33.03 65.05,32.75 64.94,34.2 64.45,35.01 63.71,34.76 62.9,34.24 62.4,35.02 61.83,35.45 61.13,35.39 60.68,36.36 59.87,35.84 58.93,34.76 58.2,34.92 57.85,35.96 57.11,35.83 56.41,35.86 56.01,36.72 55.24,36.52 54.65,36.84 54.52,37.52 54.89,38.44 53.73,38.58 53.04,38.96 53.06,39.7 52.21,40.2 51.86,40.81 52.98,41.43 52.86,42.04 52.1,42.66 51.82,43.27 52.66,43.89 52.67,44.41 53.42,44.43 54.16,44.45 54.72,44.71 54.48,46.04 54.84,46.57 55.53,46.66 56.27,46.7 56.31,47.7 56.6,48.35 57.15,48.65 57.63,49.04 57.73,49.46 59.18,49.29 59.97,49.61 59.72,50.67 60.47,51.01 61.19,51.88 60.7,52.46 60.81,53.13 61.01,53.8 60,54.32 59.06,54.84 59.53,55.55 59.9,56.25 59.84,56.91 60.13,57.48 60.49,58.03 60.34,58.68 60,59.37 60.68,59.86 61.58,60.62 61.38,61.26 60.06,61.77 59.98,62.42 59.33,63.01 58.97,63.63 60.11,64.43 60.59,65.15 59.94,65.74 59.43,66.17 60.1,67.21 59.93,67.85 59.64,68.42 59.92,69.27 59.13,69.78 57.9,69.61 57.3,69.92 57.41,70.76 57.17,71.33 56.39,71.51 56.33,72.13 56.79,72.72 57.24,73.35 58.03,73.07 59.08,72.15 59.76,72.2 60.11,73.19 60.67,73.53 61.01,74.3 61.27,75.22 62.08,75.08 63.15,75.27 62.6,75.72 61.46,75.89 61.41,76.58 61.83,77.49 61.32,78.02 62.47,78.51 63,79.15 61.48,80.28 61.98,81.07 63.1,80.62 63.3,81.51 63.71,82.08 64.45,82.69 65.38,83.06 66.08,83 66.11,81.64 66.15,80.3 67.15,80.49 67.82,80.61 68.46,80.51 69.11,80.44 69.79,80.65 70.32,79.7 70.98,79.75 71.83,81.35 72.53,81.71 73,80.82 73.64,80.63 74.29,80.57 74.93,79.91 75.58,79.71 76.22,80.62 76.87,80.04 77.51,78.83 78.16,79.1 78.96,80.04 79.33,80.55 79.3,81.46 79.17,82.47 80.17,82.35 81.08,82.38 80.78,83.22 80.47,84.06 81.72,84.53 82.11,85.43 82.15,86.13 82.6,86.95 81.91,87.41 80.26,87.55 79.9,88.11 80.32,88.93 80.13,89.47 79.52,89.77 79.33,90.39 79.13,91 78.03,90.93 78.02,91.67 78.52,91.88 79.12,92.18 79.39,92.98 80.05,93.18 80.26,94.09 80.71,94.64 81.37,94.77 82.12,94.74 82.44,95.55 82.94,96.57 83.76,96.37 84.6,96.07 85.49,95.56 86.79,95.12 87,96.01 86.86,97.43 87.75,97.24 89.2,97.79 88.1,98.2 87.53,98.72 87.57,99.38 86.99,99.9 86.43,100.42 87.59,101.34 88.11,102.36 86.75,102.46 86.54,103.12 86.66,103.94 85.89,104.33 86.05,105.23 85.98,105.96 85.01,106.1 83.94,106.18 83.7,106.79 83.77,107.62 83.35,108.12 83.08,108.77 83.6,109.58 82.77,110.05 82.47,110.65 82.88,111.43 83.59,112.29 82.73,112.75 82.19,113.3 81.71,113.71 80.86,113.81 80.22,114.12 80.64,115.49 80.02,115.82 78.99,115.74 79.01,116.71 78.7,117.35 78.26,118.01 78.04,118.99 77.45,119.23 76.61,118.98 75.56,118.31 75.12,118.85 74.73,119.5 74.04,119.53 73.43,119.75 72.88,120.18 71.75,120.05 71.65,120.95 71.98,122.28 71.74,123.04 70.82,123.12 70.26,123.42 69.8,123.83 68.93,123.83 68.61,124.38 68.58,125.21 67.96,125.44 66.66,125.35 66.44,125.92 66.62,126.75 66.3,127.26 66.37,128.02 66,128.5" fill="none" stroke="#000" stroke-width="0.85" stroke-linejoin="round" stroke-linecap="round" />
<polyline points="59.96,51.47 60.2,50.91 61.61,50.96 62.39,50.68 62.01,49.81 62.54,49.4 63.15,49.03 62.3,47.92 62.47,46.85 63.18,46.88 63.79,46.74 64.25,46.28 65.17,46.74 65.55,46.12 65.88,45.4 66.46,45.19 67.13,44.9 67.75,44.82 68.46,45.22 69.2,45.78 69.87,45.99 70.37,45.24 71.05,45.47 71.78,44.89 71.67,43.68 72.14,43.29 72.9,43.31 73.18,42.65 73.84,42.53 74.5,42.55 75.14,41.85 75.79,41.81 76.43,42.01 77.08,42.16 77.72,42.33 78.37,43.23 79.01,43.33 79.66,42.89 80.16,42.97 81.03,42.2 81.75,42.05 82.27,42.72 82.84,43.16 83.69,42.47 84.16,43.34 84.87,43.23 85.61,43.02 86.28,43.43 86.72,44.01 87.29,44.31 87.34,45.67 87.74,46.31 88.88,45.48 89.6,45.51 90.02,46.11 91.13,45.34 91.61,45.84 91.85,46.49 92.41,45.99 93.17,46.29 93.88,46.44 94.3,45.33 95.04,45.59 95.86,46.15 96.52,46.05 97.13,45.74 97.02,46.71 98.12,45.91 98.85,45.89 99.48,46.06 100.34,45.76 100.09,45.82 101.2,46.48 101.67,46.04 101.93,45.24 102.79,45.47 103.28,45.07 103.41,44.05 104.82,44.3 104.35,45.2 104.64,45.74 104.74,46.37 104.46,47.17 105.04,47.57 106.51,47.55 106.58,48.18 107.09,48.59 107.8,48.96 107.64,49.78 107.26,50.71 108.21,50.96 108.01,51.82 108.65,51.61 108.73,50.51 109.58,50.64 110.57,51.47 110.94,50.55 111.71,50.79 112.35,50.63 112.62,49.42 113.06,48.72 113.72,48.64 114.17,48.24 114.76,48.05 115.83,48.8 116.24,48.25 116.64,47.67 117.29,47.61 117.91,47.46 118.15,46.58 118.9,46.7 119.77,47.16 120.24,46.7 120.68,46.15 121.51,46.51 121.64,45.25 121.79,44.06 122.49,44.12 123.34,44.54 124,44 124.64,44.58 125.28,44.9 125.91,44.15 126.55,44.15 127.19,44.74 127.82,44.16 128.46,44.58 129.47,45.39 130.1,45.31 130.44,44.52 130.95,44.18 131.23,43.24 131.58,42.48 132.13,42.2 132.93,42.55 133.33,41.89 134.26,42.24 134.58,43.2 135.4,42.86 136.19,42.61 136.49,43.62 137.26,43.4 137.8,43.79 138.31,44.86 139.14,44.6 140.06,43.99 140.82,44.06 141.61,43.48 142.21,43.56 142.49,44.81 143.05,45.03 143.64,45.23 143.89,46.09 144.44,46.37 145.31,46.01 145.86,46.29 146.18,47.02 146.69,47.36 147.34,47.44 147.7,48.73 148.66,47.96 149.61,47.18 150.23,47.79 150.29,47.34 151.07,47.35 152.12,47.75 152.52,47.23 152.91,46.69 153.85,46.93 153.96,46.01 154.41,45.55 155.45,45.75 155.93,45.35 156.09,44.63 157.1,44.76 157.3,44.08 156.92,42.82 157.05,42.07 157.47,41.61 157.55,40.81 158.41,40.79 159.5,41 160.15,40.77 160.35,40.09 161.2,40.06 161.35,39.33 161.38,38.55 162.29,38.36 162.64,37.8 163.05,37.28 163.76,36.96 163.69,36.12 163.1,34.85 163.72,34.43 163.91,33.67 164.56,33.28 165.75,33.31 166,32.6" fill="none" stroke="#000" stroke-width="0.85" stroke-linejoin="round" stroke-linecap="round" />
<polyline points="27.42,54.63 28.28,54.51 28.63,55.05 28.99,55.57 29.95,55.31 30.06,56.17 30.71,56.74 31.44,56.25 31.96,57.01 32.75,56.09 33.38,56.17 34.07,55.92 34.77,55.54 34.93,56.5 35.58,56.3 36.36,56.29 37.36,56.63 37.36,55.47 38.12,55.43 38.41,54.7 38.97,54.38 40.13,54.65 40.07,53.59 40.56,53.09 40.73,52.27 40.61,51.15 41.81,51.39 42.58,50.62 43.08,51.42 43.67,51.68 44.27,51.85 44.81,52.43 45.62,51.3 46.18,51.72 46.63,52.08 47.13,52.46 47.5,53.02 48.27,52.94 49.31,52.4 49.64,53.05 50.49,52.82 51.31,53.42 50.79,54.68 51.3,55.19 50.84,56.4 52.15,56.34 52.45,57.1 52.94,57.46 53.57,57.63 53.68,58.49 54.54,58.36 54.84,58.97 55.44,59.2 56.72,58.39 57.08,59.04 57.67,59.33 57.53,59.96 58.67,61.02 59.13,59.91 59.9,59.8" fill="none" stroke="#000" stroke-width="0.85" stroke-linejoin="round" stroke-linecap="round" />
<polyline points="107.4,48.56 106.36,49.62 106.23,50.33 106.74,50.8 107.24,51.27 107.26,51.93 107.66,52.44 107.9,53.01 107.71,53.75 108.34,54.17 109.37,54.47 109.96,54.97 109.05,55.98 109.73,56.45 109.94,57.09 109.64,57.89 110.47,58.31 110.7,59.27 108.97,59.38 108.35,59.87 109.05,60.81 109.25,61.58 108.82,62.14 109.04,62.92 108.84,63.59 107.94,63.77 108.56,64.97 108.57,65.76 107.75,65.99 106.56,65.97 106.28,66.56 105.86,67.06 105.37,67.8 105.57,68.43 106.22,69.06 105.03,69.69 104.97,70.31 106.04,70.94 106.23,71.57 105.96,72.09 106.96,72.2 106.92,73.01 106.69,73.95 107.11,74.44 108.26,74.45 108.31,75.2 107.91,76.25 108.27,76.73 108.22,77.72 109.24,78.06 110.59,78.5 109.63,79.5 109.42,80.32 110.85,81.24 110.74,81.91 110.19,82.36 110.03,83.02 108.91,83.17 107.89,84.02 108.51,84.48 109.42,84.85 109.01,85.59 108.43,86.37 108.98,86.95 109.65,87.34 109.91,87.93 110.92,88.16 111.86,88.42 111.24,89.26 111.28,90.1 111.98,90.28 112.3,90.84 112.79,91.23 113.07,91.85 113.63,92.49 113.1,91.85 113.82,92.91 114.55,93.98 114.03,94.47 113.37,94.9 113.34,95.76 112.54,95.9 112.13,96.46 111.8,96.05 112.51,96.31 112.92,97.81 113.64,97.99 114.63,98.06 115.23,97.84 115.75,97.36 116.27,96.9 117.14,97.63 117.72,97.35 117.95,95.86 118.54,95.61 119.35,96.16 119.84,95.57 120.46,95.42 121.22,95.78 121.8,95.5 122.33,94.9 123.26,95.82 124.09,96.36 124.55,95.51 125.09,94.92 125.68,94.55 126.19,93.87 126.76,93.41 127.49,94.47 128.43,93.76 129.27,93.45 129.83,94.32 130.51,94.77 131.14,94.68 131.87,95.2 132.5,95.1 132.99,94.13 133.61,93.97 134.37,94.71 134.56,94.34 135.64,94.23 136.23,94.6 137.04,94.76 137.42,95.35 137.37,96.36 137.49,96.95 138.37,97.45 138.05,98.15 137.5,98.88 137.36,99.55 137.71,100.14 137.66,100.79 138.44,101.31 139.16,101.81 139.1,102.46 138.68,103.17 139.35,103.68 139.74,104.25 139.55,104.92 139.82,105.74 139.87,106.38 138.64,106.67 137.43,106.96 138.14,107.78 138.5,108.5" fill="none" stroke="#000" stroke-width="0.85" stroke-linejoin="round" stroke-linecap="round" />
<polyline points="127.33,32.34 128.13,32.85 127.19,33.61 126.34,34.36 126.85,34.91 126.06,35.64 127.6,36.05 127.78,36.65 127.35,37.39 128.3,37.74 127.33,38.77 128.54,39.04 129.19,39.5 129.3,40.15 129.81,40.66 128.58,41.85 128.62,42.55 129.06,43.05 129.17,43.71 130.72,43.68 130.5,44.5" fill="none" stroke="#000" stroke-width="0.85" stroke-linejoin="round" stroke-linecap="round" />
<polyline points="150.48,48.12 150.02,48.65 150.27,49.32 150.35,49.96 150.18,50.55 150.07,51.15 149.76,52.14 150,52.71 150.68,52.96 151.51,53.09 152.74,52.92 152.73,53.69 152.33,54.75 152.93,55.2 153.87,55.4 153.78,56.36 153.88,57.16 153.82,57.6 153.76,58.33 153.61,59.05 155.43,59.77 154.77,61.2 153.63,60.33 153.12,61.09 152.65,62.09 151.95,62.06 151.16,61.74 150.48,61.8 149.53,60.98 149.01,61.51 148.68,62.65 148.1,62.99 147.38,62.93 146.61,62.74 146.21,63.62 145.72,64.24 145.12,64.54 144.46,64.65 143.75,64.5 142.57,63.54 142.15,64.17 141.85,65.02 141.27,65.29 140.26,65.16 139.77,65.55 139.71,66.37 139.83,67.37 139.46,67.88 138.82,67.42 139.47,67.86 139.4,68.6 139.28,69.28 139.2,69.98 138.55,70.31 137.42,70.31 136.82,70.67 137.71,72.02 137.66,72.75 137.18,73.19 136.8,73.68 136.5,74.23 135.92,74.59 135.45,75.01 135.61,75.87 135.43,76.51 133.97,76.26 133.11,76.87 133.01,77.49 133.55,78.26 133.39,78.87 133.42,79.52 133.75,80.24 133.55,80.84 133.02,81.36 133.42,82.1 133.52,83.32 132.89,83.63 131.46,83.13 130.73,83.33 130.88,84.42 130.44,84.91 129.97,85.39 129.88,86 129.78,86.61 128.92,87.05 129.42,87.79 130.28,88.6 130.46,89.26 129.29,89.67 128.62,90.14 128.63,90.84 128.25,91.41 127.87,91.99 127.95,92.71 127.51,93.27 127.6,94" fill="none" stroke="#000" stroke-width="0.85" stroke-linejoin="round" stroke-linecap="round" />
<polyline points="154.66,57.51 154.61,58.25 153.99,59.29 154.78,59.56 155.3,59.97 155.82,60.39 156.72,60.59 157.76,60.72 157.73,61.76 156.79,62.62 157.45,63.21 157.26,63.95 157.22,64.66 157.78,65.27 157.6,65.97 158.21,66.55 158.82,66.7 159.43,66.73 160.04,67.35 160.66,66 161.27,65.16 161.88,65.52 162.49,65.75 163.34,65.51 163.91,65.87 164.12,66.97 165.07,66.55 165.73,66.74 165.85,68 166.67,67.85 167.21,68.64 167.79,69.36 168.53,69.14 169.39,68.22 170.09,68.25 170.85,67.91 171.21,68.04 172.07,68.51 172.82,68.53 173.51,68.3 174.2,68.1" fill="none" stroke="#000" stroke-width="0.85" stroke-linejoin="round" stroke-linecap="round" />
<polyline points="28.07,93.81 28.29,92.39 28.93,92.19 29.47,91.75 30.22,91.88 31.23,92.78 31.81,92.42 32.49,92.16 33.16,92.16 33.2,90.91 33.83,90.8 34.61,91.01 34.88,90.21 35.46,90.03 35.88,89.51 35.67,88.32 36.98,88.9 38.03,89.14 38.61,88.72 39.28,88.42 39.71,87.06 39.84,88.34 40.57,88.35 41.27,88.4 41.84,88.74 43,87.93 43.45,88.37 43.51,89.57 44.23,89.5 44.54,90.22 44.72,91.19 45.86,90.29 46.41,90.54 47.25,91.78 47.4,90.82 48.35,91.06 48.45,90.01 48.49,88.87 49.2,88.76 49.65,88.24 50.47,88.29 51.59,88.97 51.77,87.98 52.37,87.84 52.91,87.56 53.43,87.25 54.15,87.35 54.82,87.33 54.66,85.68 55.12,85.25 55.77,85.17 56.28,84.81 57.09,85.06 57.94,85.37 58.24,84.61 59.01,84.78 59.34,84.06 59.72,83.66 61.32,84.12 61.49,83.48 60.81,82.2 60.97,81.56 61.24,81.01 62.1,80.9" fill="none" stroke="#000" stroke-width="0.85" stroke-linejoin="round" stroke-linecap="round" />
<polyline points="29.21,93.3 28.05,93.91 27.67,94.51 27.44,95.12 27.06,95.72 27.6,96.33 28.21,96.93 27.66,97.54 27.86,98.14 28.42,98.75 27.72,99.36 27.56,99.96 28.46,100.57 28.83,101.17 28.25,101.78 28.41,102.38 27.94,102.99 26.48,103.59 27.42,104.24 27.38,104.87 27.5,105.48 28.63,106.02 29.04,106.61 28.26,107.3 28.48,107.91 28.52,108.53 27.83,109.21 28.68,109.77 28.92,110.37 28.33,111.05 28.06,111.69 28.11,112.31 28.33,113.81 29.14,113.42 30.03,112.75 30.67,112.94 31.5,112.44 31.95,113.27 32.32,114.39 33.05,114.27 33.37,114.52 33.6,115.13 34.45,115.52 34.32,116.25 34.27,116.96 34.77,117.47 35.21,118.01 35.19,118.7 36.42,118.9 36.29,119.69 36.21,120.46 36.16,121.21 35.54,122.22 35.74,122.86 37.25,122.7 37.56,123.53 38.32,123.43 39.1,123.3 39.23,124.49 40.06,124.27 40.63,124.56 41.11,125.05 41.71,125.27 42.37,125.36 42.89,126.23 43.51,126.56 44.2,126.5 44.94,126.15 45.79,125.12 46.3,125.19 46.94,125.51 47.59,125.79 48.23,126.08 48.87,127.13 49.51,125.94 50.16,126.14 50.8,126.1" fill="none" stroke="#000" stroke-width="0.85" stroke-linejoin="round" stroke-linecap="round" />
<polyline points="88.51,97.81 88.58,96.98 89.16,96.66 90.13,96.73 91.11,96.81 90.72,95.52 90.87,94.77 90.99,93.99 91.53,93.51 91.87,92.96 92.61,92.93 93.81,93.5 94.04,92.8 94.07,91.84 94.8,91.81 95.41,92.46 96.04,93.03 96.85,92.85 97.9,92.66 97.68,91.64 97.46,90.61 98.97,90.98 99.65,90.68 99.56,89.76 100.1,89.35 100.63,89.07 101.22,88.76 101.91,89.04 102.59,89.26 103.31,89.72 103.69,88.07 104.23,87.4 105,87.95 105.62,88.05 106.23,87.92 106.85,87.94 107.47,88.18 108.08,87.84 109.08,87.6 109.05,88.87 109.15,89.93 109.93,89.91 110.9,89.6" fill="none" stroke="#000" stroke-width="0.85" stroke-linejoin="round" stroke-linecap="round" />
<polyline points="130.05,94.23 130.63,94.43 131.19,94.73 131.6,95.46 131.95,96.38 132.78,95.79 133.81,94.59 134.69,95.23 134.72,96.03 135.31,96.37 135.28,97.22 135.58,97.8 136.12,98.19 136.98,98.32 136.68,99.31 135.96,100.37 136.63,100.76 138.07,100.78 138.64,101.22 139.1,101.72 139.28,102.34 139.11,103.14 138.58,104.11 138.86,104.69 139.7,105" fill="none" stroke="#000" stroke-width="0.85" stroke-linejoin="round" stroke-linecap="round" />
<polyline points="27.66,161.35 27.76,162.14 28.84,161.91 29.62,161.99 29.37,163.13 30.34,163.02 30.61,163.62 30.33,164.74 31.43,164.54 32.52,164.34 32.69,165.03 33.36,165.25 34.08,165.4 33.76,166.58 33.92,167.28 34.53,167.53 34.75,168.17 35.1,168.68 35.75,168.88 36.25,169.23 36.13,170.21 36.97,170.18 36.99,170.9 36.97,171.65 38.1,171.67 39.14,171.76 39.35,172.37 39.82,172.8 39.4,173.8" fill="none" stroke="#000" stroke-width="0.85" stroke-linejoin="round" stroke-linecap="round" />
<polyline points="170.46,33.09 171.18,32.28 171.85,32.07 172.41,32.7 173.05,32.7 173.56,33.8 174.22,33.59 174.93,33.04 175.44,33.7 176.08,33.67 176.68,33.86 177.17,34.55 178.04,33.38 178.64,33.54 179.31,33.41 179.9,33.63 180.35,34.69 181.03,34.37 181.71,34.09 182.27,34.64 182.98,34.17 183.49,35.11 184.04,35.77 184.87,35.26 185.55,35.28 186.07,34.4 186.82,34.78 187.49,34.71 188.06,34.21 188.63,34 188.93,33.21 189.41,32.8 190.4,33.44 190.87,33 191.4,32.7" fill="none" stroke="#000" stroke-width="0.85" stroke-linejoin="round" stroke-linecap="round" />
<polyline points="171.67,39.83 172.29,39.64 172.94,39.77 173.56,39.56 174.06,38.58 174.66,38.28 175.35,38.65 175.98,38.53 176.63,38.63 177.29,38.81 177.83,37.99 178.43,37.64 179.12,38.14 179.72,37.8 180.22,38.63 180.67,39.34 181.49,39.16 182.18,39.28 182.88,39.4 183.6,39.45 183.91,40.27 184.85,39.99 185.38,40.37 185.95,40.7 186.98,40.27 186.7,41.12 187.48,40.96 188.02,40.49 189.2,40.84 189.49,40.05 189.8,39.3" fill="none" stroke="#000" stroke-width="0.85" stroke-linejoin="round" stroke-linecap="round" />
<polyline points="171.21,32.63 171.83,32.4 172.46,32.26 173.12,32.66 173.73,32.2 174.29,31.32 174.97,31.73 175.61,32.06 176.22,32.12 176.89,32.98 177.47,32.4 178.04,31.67 178.69,32.25 179.3,32.06 179.83,32.15 180.41,32.47 181.23,31.95 181.98,31.67 182.51,32.18 183.04,32.59 183.61,32.96 184.07,33.81 184.89,32.97 185.5,33.12 186.02,33.69 186.64,33.81 187.13,34.37 187.92,33.89 188.74,33.28 189.32,33.65 189.86,34.13 190.53,34.11 190.92,35.16 191.65,34.94 192.3,34.92 192.93,35.23 193.55,35.48 194.18,35.24 194.8,35.51 195.43,34.82 196.05,34.23 196.68,34.48 197.3,35" fill="none" stroke="#000" stroke-width="0.85" stroke-linejoin="round" stroke-linecap="round" />
<polyline points="173.41,35.99 174.08,35.87 174.71,35.55 175.53,36.35 176.2,36.23 176.84,35.96 177.55,35.61 178.15,36.03 178.9,35.88 179.37,36.81 179.96,37.29 180.78,36.84 181.49,37 182.21,36.63 182.95,36 183.64,36.28 184.29,37.1 185,37" fill="none" stroke="#000" stroke-width="0.85" stroke-linejoin="round" stroke-linecap="round" />
<polyline points="102.14,121.49 102.26,120.79 102.33,120.09 102.26,119.38 102.95,118.74 103.59,118.16 103,117.45 102.55,116.76 102.78,116.18 102.51,115.52 102.31,114.87 102.81,114.34 103.75,113.87 103.74,113.26 103.82,112.26 104.09,112.97 104.3,113.75 104.85,114.06 104.8,114.81 105.2,115.37 106.29,115.66 106,116.5" fill="none" stroke="#000" stroke-width="0.85" stroke-linejoin="round" stroke-linecap="round" />
<polyline points="62.29,144.63 63.1,145.23 63.51,144.44 64.11,144.29 64.62,143.85 64.99,142.92 65.75,143.35 66.31,143.09 66.82,142.65 67.52,142.97 68.06,142.33 68.61,141.83 69.3,142.31 69.88,142.02 70.51,142.07 71.24,142.95 71.82,142.63 72.42,142.44 73.08,142.76 73.66,141.85 74.19,142.36 74.73,142.86 75.54,142.65 75.94,143.48 76.79,143.19 77.9,143.39 78.07,144 78.5,144.56 77.91,145.34 77.64,146.05 77.96,146.49 77.08,146.57 77,147.27 77.04,148.08 76.4,148.34 76.23,148.98 75.77,149.39 75.08,149.61 74.93,150.28 74.78,150.91 74.4,151.38 74.7,152.3 74.56,152.93 73.63,153.03 73.38,153.59 72.66,153.83 71.99,154.1 72.04,154.84 71.46,155.18 71.14,155.78 70.78,156.34 69.76,156.24 69.44,156.84 69.18,157.5 68.46,157.7 68.95,159.11 68.43,159.51 67.76,159.96 67.21,160.26 66.28,159.9 65.74,160.21 65.52,161.08 64.68,160.89 64.29,161.47 63.66,161.83 63.26,160.99 62.66,160.87 62.11,160.59 61.56,160.28 60.72,160.98 60.11,160.89 59.47,160.91 58.8,161.02 58.19,160.48 58.06,159.61 57.14,159.82 57.05,158.89 56.31,158.85 55.45,158.98 55.41,158 55.49,157.31 55.38,156.65 56,155.86 55.13,155.34 55.01,154.68 54.49,154.1 53.81,153.23 54.58,152.73 54.83,152.13 54.99,151.5 55.27,150.9 54.57,150.09 55.2,149.4 55.77,149.11 56.03,148.52 56.96,148.59 57.82,148.59 57.89,147.8 58.37,147.43 58.46,146.71 58.7,145.86 59.43,145.85 60.07,145.68 60.44,145.08 61.28,145.23 61.5,144.37 62.2,144.3" fill="none" stroke="#000" stroke-width="0.85" stroke-linejoin="round" stroke-linecap="round" />
<polyline points="188,91.34 187.3,91.53 186.6,90.98 185.9,90.36 185.2,90.58 184.5,90.41 183.76,90.81 183.5,91.85 182.74,91.74 181.97,91.61 181.46,92.08 181.02,92.73 180.3,92.69 179.64,92.82 179.04,93.03 178.21,93.19 177.51,93.44 177.36,94.11 177.66,95.11 177.58,95.83 176.81,96.04 176.58,96.64 176.1,97.06 175.59,97.46 175.17,97.92 175.29,98.7 174.82,99.18 173.9,99.44 173.36,99.89 173.42,100.64 173.31,101.31 173.59,102.18 173.8,103 173.03,103.33 171.94,103.5 172.03,104.27 171.99,104.98 171.07,105.37 171.05,106 171.4,106.67 170.53,107.21 170.33,107.83 170.97,108.52 171.66,109.23 171.3,109.83 171.08,110.44 171.02,111.07 170.78,111.67 170.13,112.59 170.91,112.93 171.44,113.4 171.33,114.19 171.23,114.99 172.07,115.3 172.62,115.75 173.07,116.27 173.93,116.54 174.09,117.16 173.74,118.03 173.45,118.88 174.17,119.23 174.51,119.88 174.87,120.53 175.62,120.87 176.08,121.83 176.68,121.61 177.23,121.17 177.65,120.21 178.34,120.39 179.07,120.68 179.77,120.64 180.27,120.18 180.95,119.83 181,119.15 180.37,118.14 181.13,117.82 181.73,117.41 181.45,116.58 181.74,116.02 182.15,115.52 182.24,114.92 181.91,114.16 183.01,113.87 183.81,113.48 183.88,112.86 183.82,112.19 183.65,111.48 184.01,110.95 183.73,110.21 183.92,109.62 184.81,109.27 184.55,108.53 184.16,107.76 184.51,107.22 185.37,106.84 185.41,106.21 185.79,105.66 186.35,105.14 186.3,104.5 185.67,103.73 185.36,103.03 186.21,102.58 186.18,101.94 186.07,101.28 186.27,100.69 186.62,100.13 186.61,99.49 186.76,98.89 187.8,98.48 187.99,97.88 187.51,97.12 187.21,96.46 187.37,95.85 187.07,95.19 187.08,94.56 187.45,93.98 188.12,93.43 187.73,92.75 187.49,92.1 187.89,91.52 188,90.9" fill="none" stroke="#000" stroke-width="0.85" stroke-linejoin="round" stroke-linecap="round" />
<polyline points="173.77,174.04 174.25,173.33 173.7,172.75 173.89,172.07 173.65,171.45 173.2,170.85 173.95,170.11 174.22,169.42 173.74,168.83 174.09,168.13 173.18,167.59 172.85,166.99 173.07,166.29 172.97,165.64 172.92,165 173.5,164.46 172.93,163.73 173,163.1 173.79,162.59 174.1,162.01 174.5,161.44 174.7,160.83 174,159.91 174.67,159.73 175.47,159.83 175.89,159.18 176.63,159.17 177.02,158.44 177.36,157.62 178.44,157.48 178.94,157.94 179.55,158.03 179.97,158.8 180.59,158.84 181.3,158.53 181.69,159.42 182.32,159.44 182.97,159.38 183.43,160.09 184.17,159.66 184.9,159.25 185.42,159.72 186.1,159.55 186.69,159.72 187.17,160.32 187.79,160.31 188.53,159.83 188.99,160.48 189.55,160.71 190.11,160.97 189.74,161.44 190.59,161.84 191.12,162.35 191.49,162.91 191.71,163.54 192.08,164.27 191.56,164.78 191.81,165.48 192.1,166.2 191.36,166.65 191.55,167.34 190.88,167.81 189.84,168.84 190.72,169.13 191.04,169.71 191.3,170.31 192.18,170.6 191.74,171.57 192.11,172.12 193.11,172.07 193.45,172.69 194.29,172.63 194.59,173.32 194.9,174" fill="none" stroke="#000" stroke-width="0.85" stroke-linejoin="round" stroke-linecap="round" />
<polyline points="181.4,135.2 188.7,126.9" fill="none" stroke="#000" stroke-width="0.9" stroke-linejoin="round" stroke-linecap="round" />
<polyline points="195,108 196.9,97.4" fill="none" stroke="#000" stroke-width="0.9" stroke-linejoin="round" stroke-linecap="round" />
<polyline points="163.8,162.5 169.8,154.2" fill="none" stroke="#000" stroke-width="0.9" stroke-linejoin="round" stroke-linecap="round" />
<polyline points="27.1,143.38 28.01,143.28 27.99,142.62 28.74,142.42 29.32,142.12 29.3,141.47 28.81,140.52 28.64,139.77 29.38,139.48 30.23,139.58 30.14,138.74 30.47,138.32 30.7,137.8 31.21,137.56 31.33,136.93 31.71,136.56 32.76,136.91 33.77,137.35 33.95,136.69 33.88,135.71 34.36,135.45 35.02,135.42 35.34,134.95 35.88,134.97 36.34,134.74 36.8,134.5 36.74,133.23 36.94,132.47 37.65,132.75 38.47,133.23 38.93,133.02 39.06,132.11 39.44,131.72 40.16,132.04 40.53,131.62 41.05,131.43 41.77,131.53 42.79,132.08 43.14,131.64 42.85,130.23 42.98,129.44 43.84,129.76 44.53,129.83 44.78,129.29 45.18,128.96 45.68,128.84 45.86,127.94 46.26,127.59 46.67,127.25 47.43,127.88 48.3,128.24 48.54,127.43 48.95,126.95 49.65,127.01 50.34,127.07 50.85,126.92 51.27,126.57 51.89,126.62 52.37,126.39 52.43,125.32 52.52,124.31 53.41,124.91 53.56,125.2 54.43,124.84 55.02,124.87 55.43,125.18 55.88,125.44 56.54,125.37 56.95,125.68 56.73,126.9 56.65,127.93 57.48,128 58.36,127.12 58.77,127.7 59.11,128.51 59.72,128.47 60.28,128.59 60.73,129.04 61.73,129 61.74,127.66 62.05,126.97 62.94,127.52 63.62,127.63 64.33,126.94 65.07,126.81 65.21,127.64 65.65,128.01 66.12,128.52 65.62,129.01 64.66,129.44 65.05,130.06 66.05,130.79 65.56,131.28 65.12,131.79 65.04,132.45 65.34,132.97 65.55,133.5 66.06,133.99 66.43,134.5 67.06,134.97 66.32,135.64 65.75,136.27 66.01,136.79 66.4,137.18 66.69,137.63 66.62,138.29 66.65,138.89 67.1,139.24 66.79,140.04 67.33,140.83 68.06,140.78 69.15,140.21 69.44,140.81 69.97,141.94 70.32,141.17 70.63,140.24 71.14,140.06 71.69,140.04 71.42,140.45 71.52,139.9 72.81,139.55 73.81,139.15 73.16,138.5 72.8,137.88 73.14,137.38 73.38,136.6 73.43,135.94 72.8,135.63 72.45,135.18 72.4,134.57 70.84,134.07 70.84,133.51 71.78,133.21 72.7,132.9 72.22,132.21 71.79,131.09 72.32,130.86 72.88,130.66 73.64,130.66 74.2,130.46 74.47,130.47 75.02,130.51 75.38,129.77 75.72,128.97 76.39,129.48 77.08,130.04 77.56,129.8 77.8,128.63 78.37,128.73 78.85,128.49 79.24,127.83 79.71,127.54 80.23,127.43 80.96,128.28 81.56,128.53 81.92,127.78 82.35,127.31 82.95,127.57 83.61,128.08 84.14,128.04 84.6,127.69 85.23,128.04 85.64,127.58 85.88,126.44 86.32,126.1 86.93,126.38 87.59,126.85 87.97,126.29 88.38,125.79 88.74,125.14 89.44,125.58 89.92,125.01 90.48,124.93 91.26,126.3 91.84,126.36 92.36,126.06 92.82,125.31 93.53,125.75 94.12,125.78 94.66,125.68 94.99,125 95.7,125.32 96.08,124.8 96.24,123.66 96.61,123.12 97.38,123.61 98.18,124.2 98.38,123.28 98.6,122.53 99.04,122.22 99.76,122.43 100.22,122.16 101,122.49 101.77,122.79 102.22,122.49 102.5,121.92 102.57,120.79 103.36,121.14 104.07,121.35 104.45,120.86 104.82,120.37 105.16,119.81 105.56,119.43 105.94,118.98 106.32,118.53 107.12,119.34 107.7,119.48 108.31,119.7 108.33,118.29 108.97,118.42 109.68,118.79 110.26,118.79 110.81,118.71 111.35,118.59 111.95,118.63 112.25,117.88 112.47,116.92 113.14,117.16 113.64,117.79 114.22,117.84 114.91,116.51 115.51,116.32 115.91,116.96 116.29,116.25 116.93,116.53 117.58,116.89 118.38,117.82 118.65,116.67 119.11,116.27 119.64,116.14 120.35,116.72 120.9,116.65 121.45,116.62 121.9,116.22 122.35,115.78 122.75,115.1 123.22,114.73 123.77,114.72 124.53,115.54 124.91,114.83 125.25,113.9 125.85,114.08 126.5,114.48 127.01,114.27 127.5,114.2 128.26,114.5 129.07,114.9 129.24,114.02 129.34,112.99 129.98,113.04 130.94,113.75 131.41,113.46 131.59,112.61 131.86,112.01 132.1,111.47 132.21,110.76 132.71,110.55 133.36,110.55 134.38,111.03 134.45,110.27 134.71,109.63 135.01,109.03 136.01,109.77 136.73,109.99 137.08,109.48 137.5,109.1 138.44,109.47 138.44,108.52 138.55,107.73 138.82,107.17 139.68,107.52 140.43,107.7 140.27,106.51 140.3,105.59 140.88,105.51 141.48,105.46 141.49,104.89 142.29,104.97 143.18,105.14 143.79,105.04 143.53,104.07 143.73,103.55 144.43,103.53 145.43,103.81 145.69,103.36 145.93,102.88 146,102.23 146.51,102.02 146.3,101 146.63,100.54 147.16,100.39 147.9,100.55 148.44,100.41 148.43,99.45 148.56,98.68 149.04,98.45 150.1,99.1 150.35,98.52 150.9,98.4 151.64,98.57 152.18,98.43 152.39,97.79 152.3,96.7 153.1,96.96 154.15,97.59 154.27,96.81 154.23,95.79 154.71,95.57 155.1,95.27 155.22,94.6 155.56,94.18 156.15,94.04 157.31,94.54 157.38,93.82 156.98,92.56 157.52,92.36 158.66,92.84 159.34,92.8 159.57,92.26 160.03,91.92 160.64,91.75 160.47,90.84 160.53,90.14 161.25,90.08 161.88,89.94 162.33,89.62 162.09,88.64 161.91,87.7 162.66,87.99 162.93,87.53 162.68,86.93 163.29,86.55 164.35,86.29 164.21,85.72 163.51,85.01 163.79,84.55 164.61,84.23 165.17,83.84 165.06,83.28 164.78,82.75 165.01,82.28 165.4,81.9 164.98,81.11 164.96,80.52 165.63,80.29 166.44,80.13 165.91,79.28 165.58,78.53 165.88,78.11 166.64,77.92 166.9,77.47 167.27,77.07 168.01,77.01 168.65,76.85 168.86,76.26 168.51,75.11 169.27,75.07 170.37,75.37 170.61,74.64 170.26,73.75 170.64,73.35 170.86,72.84 170.99,72.27 170.94,71.59 171.82,71.52 172.69,71.43 172.62,70.73 171.76,69.64 172.58,69.45 173.5,69.32 174.3,69.12 174.2,68.44 174.74,68.1 175.24,67.74 174.73,66.84 174.48,65.88 175.36,66.02 176.14,66.08 176.46,65.66 175.84,64.31 175.97,63.7 176.89,63.58 177.35,63.17 178,63.22 178.87,63.82 179.47,63.75 179.67,62.78 179.97,62.21 180.8,62.58 181.6,62.91 182.04,62.59 182.24,61.86 182.73,61.52 183.08,61.05 182.96,60.13 183.25,59.6 184.13,59.67 184.76,59.37 184.37,58.68 183.73,57.88 184.12,57.49 185,57.29 185.18,56.82 185.68,56.43 186.03,55.92 186.46,55.42 186.01,54.79 185.49,54.15 186.09,53.68 186.89,53.48 186.83,52.9 186.41,52.17 186.17,51.52 186.54,51.12 186.25,50.45 186.39,49.93 187.24,49.72 187.75,49.34 187.92,48.82 187.31,47.93 187.47,47.4 189,47.5 189.35,47.05 189.68,46.63 189.53,45.99 189.86,45.57 190.23,45.17 189.61,44.32 189.64,43.77 190.74,43.69 191.18,43.29 190.7,42.49 189.84,41.52 190.28,41.12 191.21,40.92 191.26,40.32 191.44,39.77 192.39,39.63 192.55,39.08 192.31,38.31 192.68,37.86 193.2,37.5" fill="none" stroke="#000" stroke-width="0.9" stroke-linejoin="round" stroke-linecap="round" />
<polyline points="179.71,58.68 181.08,59.51 182.35,60.25 183.72,61.08 183.22,60.15 184.29,60.7 183.35,59.35 185.13,60.07 185.79,59.98 186.43,59.88 187.25,59.86 185.83,58.95 184.47,58.08 184.43,57.71 184.91,57.56 185.69,57.51 186.75,57.59 187.76,57.64 187.88,56.76 187.56,56.4 185.91,55.85 185.57,55.49 185.85,55.23 185.69,54.89 185.37,54.54 185.36,54.23 184.2,53.75 182.46,53.18 182.02,52.8 182.54,51.62 184.22,52.01 185.56,52.25 187.31,52.67 187.54,52.43 186.35,51.59 187.25,51.65 186.24,50.88 187.58,51.12 188.28,51.09 188.9,51.08 187.55,50.11 187.34,49.66 187.7,49.47 186.54,48.59 187.77,48.8 190.16,49.54 191.23,49.67 192.1,49.72 191.06,48.89 189.41,47.79 189.15,47.31 188.02,46.45 188.17,46.18 188.61,46.05 187.95,45.42 187.32,44.8 187.07,44.35 186.5,43.77 188.1,44.16 188.97,44.22 190.21,44.45 190.51,44.26 191.07,44.18 190.46,43.57 189.76,42.91 189.29,42.35 190.14,42.36 191.21,42.47 191.32,42.16 191.61,41.93 191.81,41.66 192.37,41.55 191.84,40.96 193.28,41.39 194.99,41.96 194.73,41.47 194.77,41.14 194.72,40.76 193.03,39.51 191.42,38.3 190.44,37.43 192.03,37.93 192.32,37.73 192.86,37.67 193.2,37.5" fill="none" stroke="#000" stroke-width="1.1" stroke-linejoin="round" stroke-linecap="round" />
<polyline points="150.99,98.54 151.37,98.48 151.75,98.41 152.03,98.19 151.76,97.15 151.36,95.9 151.75,95.85 152.01,95.62 152.44,95.62 153.41,96.46 154.18,96.99 154.25,96.47 154.75,96.58 154.78,95.99 155.48,96.42 156.49,96.84 156.55,96.36 156.44,95.67 155.79,94.39 155.88,93.94 156.3,93.85 156.86,93.93 157.85,94.49 158.13,94.26 158.35,93.95 157.8,92.78 157.59,91.99 157.62,91.47 158.07,91.42 158.82,91.71 158.54,90.84 158.56,90.5 159,90.39 160.11,90.95 161.45,91.73 162.22,91.95 162.68,91.88 161.89,90.59 161.43,89.62 161.82,89.48 161.79,88.92 162.57,89.16 162.67,88.73 162.6,88.13 162.45,87.93 162.23,87.51 163.35,87.43 163.56,87.12 163.6,86.76 163.4,86.35 162.61,85.78 161.63,85.16 162.37,84.99 162.75,84.72 164.25,84.73 164.77,84.5 165.48,84.31 165.15,83.86 164.82,83.41 165.72,83.28 165.8,83.26 165.58,82.74 165.98,82.54 165.35,81.81 164.25,80.84 164.27,80.44 164.99,80.41 165.44,80.23 166.62,80.42 166.24,79.82 166.05,79.31 165.82,78.79 165.14,78.04 165.47,77.8 166.54,77.93 166.68,77.6 167.17,77.44 166.88,76.68 167.21,76.5 168.06,76.84 168.86,77.13 170.16,77.93 169.92,77.17 169.79,76.54 168.91,75.15 168.85,74.58 168.84,74.06 169.33,74.03 169.51,73.91 169.8,73.68 170.36,73.63 169.92,72.92 170.04,72.58 170.52,72.48 171.18,72.49 171.44,72.24 171.13,71.62 171.27,71.29 170.81,70.57 171.01,70.28 172.39,70.77 173,70.75 174.07,70.88 174.86,70.89 174.02,70.02 174,69.59 174.28,69.32 174.4,68.97 173.88,68.27 173.74,67.77 173.51,67.23 172.83,66.44 173.56,66.42 173.73,66.09 175.29,66.69 175.61,66.46 175.48,65.78 175.38,65.13 175.06,64.26 175.85,64.5 176.24,64.34 177.35,64.9 177.31,64.62 177.53,64.19 177.85,64.01 178.5,64.64 178.93,64.74 179.64,65.5 179.53,64.27 179.6,63.47 179.38,62.26 179.19,61.21 179.77,61.5 180.16,61.46 180.89,62.01 181.25,61.92 181.36,61.39 181.63,61.15 181.87,60.85 182.41,61.22 183.52,61.73 183.36,61.05 183.45,60.6 182.9,59.54 183.55,59.62 184.2,59.7" fill="none" stroke="#000" stroke-width="0.8" stroke-linejoin="round" stroke-linecap="round" />
<circle cx="104.25" cy="121.71" r="0.54" fill="#000"/>
<circle cx="105.25" cy="120.05" r="0.37" fill="#000"/>
<circle cx="108.62" cy="120.62" r="0.85" fill="#000"/>
<circle cx="108.36" cy="118.35" r="0.46" fill="#000"/>
<circle cx="109.62" cy="118.62" r="0.79" fill="#000"/>
<circle cx="112.82" cy="120.96" r="0.61" fill="#111"/>
<circle cx="113.33" cy="120.79" r="0.54" fill="#111"/>
<circle cx="112.62" cy="117.32" r="0.43" fill="#000"/>
<circle cx="118.36" cy="117.71" r="0.64" fill="#000"/>
<circle cx="119.96" cy="119.57" r="0.62" fill="#111"/>
<circle cx="121.30" cy="116.05" r="0.63" fill="#000"/>
<circle cx="125.11" cy="115.66" r="0.58" fill="#000"/>
<circle cx="126.23" cy="115.66" r="0.76" fill="#000"/>
<circle cx="127.06" cy="114.47" r="0.60" fill="#000"/>
<circle cx="127.56" cy="114.33" r="0.49" fill="#000"/>
<circle cx="129.21" cy="112.73" r="1.03" fill="#000"/>
<circle cx="130.51" cy="114.10" r="1.02" fill="#000"/>
<circle cx="130.74" cy="113.34" r="0.65" fill="#000"/>
<circle cx="132.54" cy="115.73" r="0.56" fill="#111"/>
<circle cx="133.54" cy="112.51" r="0.93" fill="#000"/>
<circle cx="133.75" cy="111.92" r="0.93" fill="#000"/>
<circle cx="134.39" cy="111.91" r="0.92" fill="#000"/>
<circle cx="137.27" cy="112.21" r="0.55" fill="#111"/>
<circle cx="137.78" cy="108.47" r="0.75" fill="#000"/>
<circle cx="138.74" cy="107.05" r="0.65" fill="#000"/>
<circle cx="141.39" cy="110.11" r="0.64" fill="#111"/>
<circle cx="147.21" cy="100.46" r="0.82" fill="#000"/>
<circle cx="148.31" cy="101.17" r="0.61" fill="#000"/>
<circle cx="149.02" cy="99.38" r="1.13" fill="#000"/>
<circle cx="150.69" cy="100.95" r="0.57" fill="#000"/>
<circle cx="151.49" cy="99.29" r="0.45" fill="#000"/>
<circle cx="153.24" cy="101.00" r="0.33" fill="#111"/>
<circle cx="154.59" cy="98.25" r="0.69" fill="#000"/>
<circle cx="156.54" cy="98.34" r="0.45" fill="#111"/>
<circle cx="156.05" cy="96.35" r="0.54" fill="#000"/>
<circle cx="158.38" cy="94.95" r="0.65" fill="#000"/>
<circle cx="158.38" cy="93.33" r="1.00" fill="#000"/>
<circle cx="161.10" cy="95.60" r="0.34" fill="#111"/>
<circle cx="160.77" cy="93.61" r="0.94" fill="#000"/>
<circle cx="160.17" cy="92.06" r="1.08" fill="#000"/>
<circle cx="159.55" cy="90.70" r="0.45" fill="#000"/>
<circle cx="161.18" cy="91.52" r="0.60" fill="#000"/>
<circle cx="164.34" cy="91.57" r="0.36" fill="#111"/>
<circle cx="164.82" cy="90.53" r="0.63" fill="#111"/>
<circle cx="163.87" cy="86.17" r="0.54" fill="#000"/>
<circle cx="166.55" cy="86.32" r="0.44" fill="#111"/>
<circle cx="165.17" cy="84.37" r="0.64" fill="#000"/>
<circle cx="167.59" cy="84.98" r="0.69" fill="#111"/>
<circle cx="163.93" cy="83.52" r="0.94" fill="#000"/>
<circle cx="165.18" cy="83.30" r="0.58" fill="#000"/>
<circle cx="168.14" cy="83.87" r="0.61" fill="#111"/>
<circle cx="167.33" cy="77.69" r="0.63" fill="#000"/>
<circle cx="167.68" cy="76.68" r="0.66" fill="#000"/>
<circle cx="169.54" cy="77.74" r="0.75" fill="#000"/>
<circle cx="168.49" cy="75.09" r="0.61" fill="#000"/>
<circle cx="170.22" cy="73.72" r="0.86" fill="#000"/>
<circle cx="171.95" cy="72.91" r="1.14" fill="#000"/>
<circle cx="170.99" cy="71.62" r="0.49" fill="#000"/>
<circle cx="177.20" cy="71.31" r="0.65" fill="#111"/>
<circle cx="174.69" cy="68.70" r="1.12" fill="#000"/>
<circle cx="175.66" cy="66.32" r="0.39" fill="#000"/>
<circle cx="179.67" cy="68.14" r="0.53" fill="#111"/>
<circle cx="179.52" cy="67.25" r="0.59" fill="#111"/>
<circle cx="177.51" cy="63.57" r="1.02" fill="#000"/>
<circle cx="182.44" cy="60.45" r="0.77" fill="#000"/>
<circle cx="184.05" cy="59.10" r="0.40" fill="#000"/>
<circle cx="184.88" cy="57.79" r="1.16" fill="#000"/>
<circle cx="184.50" cy="57.09" r="1.21" fill="#000"/>
<circle cx="188.54" cy="55.74" r="0.47" fill="#000"/>
<circle cx="187.58" cy="55.03" r="0.79" fill="#000"/>
<circle cx="187.33" cy="54.43" r="0.80" fill="#000"/>
<circle cx="186.21" cy="53.19" r="0.64" fill="#000"/>
<circle cx="186.23" cy="52.65" r="1.19" fill="#000"/>
<circle cx="189.41" cy="53.46" r="0.59" fill="#000"/>
<circle cx="189.12" cy="52.78" r="1.31" fill="#000"/>
<circle cx="187.51" cy="50.99" r="0.88" fill="#000"/>
<circle cx="189.02" cy="51.13" r="1.01" fill="#000"/>
<circle cx="190.22" cy="50.47" r="0.75" fill="#000"/>
<circle cx="187.71" cy="47.51" r="0.47" fill="#000"/>
<circle cx="191.24" cy="48.52" r="0.52" fill="#000"/>
<circle cx="188.70" cy="46.76" r="1.10" fill="#000"/>
<circle cx="192.31" cy="48.40" r="0.67" fill="#111"/>
<circle cx="192.36" cy="47.28" r="0.62" fill="#111"/>
<circle cx="193.56" cy="47.26" r="0.39" fill="#111"/>
<circle cx="192.01" cy="45.98" r="0.70" fill="#111"/>
<circle cx="192.42" cy="45.60" r="0.48" fill="#000"/>
<circle cx="190.96" cy="44.37" r="0.55" fill="#000"/>
<circle cx="192.34" cy="44.39" r="0.90" fill="#000"/>
<circle cx="193.89" cy="45.06" r="0.50" fill="#111"/>
<circle cx="193.64" cy="43.76" r="1.32" fill="#000"/>
<circle cx="190.88" cy="41.97" r="0.64" fill="#000"/>
<circle cx="193.40" cy="43.06" r="0.50" fill="#111"/>
<circle cx="192.53" cy="42.09" r="0.75" fill="#000"/>
<circle cx="195.99" cy="43.59" r="0.56" fill="#111"/>
<circle cx="192.58" cy="39.74" r="0.81" fill="#000"/>
<circle cx="193.09" cy="39.37" r="0.80" fill="#000"/>
<circle cx="197.02" cy="40.82" r="0.67" fill="#111"/>
<circle cx="194.44" cy="38.80" r="0.76" fill="#000"/>
<circle cx="45.25" cy="128.87" r="0.64" fill="#000"/>
<circle cx="47.27" cy="129.07" r="0.43" fill="#000"/>
<circle cx="48.35" cy="128.03" r="0.93" fill="#000"/>
<circle cx="49.41" cy="128.44" r="0.85" fill="#000"/>
<circle cx="49.92" cy="127.82" r="0.95" fill="#000"/>
<circle cx="50.57" cy="127.55" r="0.78" fill="#000"/>
<circle cx="51.19" cy="127.42" r="0.56" fill="#000"/>
<circle cx="51.64" cy="126.97" r="0.74" fill="#000"/>
<circle cx="52.20" cy="126.73" r="0.65" fill="#000"/>
<circle cx="52.73" cy="126.43" r="0.47" fill="#000"/>
<circle cx="53.91" cy="126.08" r="0.64" fill="#000"/>
<circle cx="53.76" cy="124.90" r="0.39" fill="#000"/>
<circle cx="54.51" cy="126.14" r="0.64" fill="#000"/>
<circle cx="55.99" cy="126.31" r="0.83" fill="#000"/>
<circle cx="56.00" cy="127.45" r="0.84" fill="#000"/>
<circle cx="58.16" cy="128.04" r="0.84" fill="#000"/>
<circle cx="59.57" cy="128.00" r="0.46" fill="#000"/>
<circle cx="60.12" cy="128.45" r="0.62" fill="#000"/>
<circle cx="62.33" cy="128.59" r="0.70" fill="#000"/>
<circle cx="65.12" cy="128.36" r="0.45" fill="#000"/>
<circle cx="65.41" cy="129.74" r="0.44" fill="#000"/>
<circle cx="65.48" cy="131.08" r="0.53" fill="#000"/>
<circle cx="65.42" cy="131.74" r="0.59" fill="#000"/>
<circle cx="65.08" cy="132.44" r="0.40" fill="#000"/>
<circle cx="64.76" cy="133.77" r="0.64" fill="#000"/>
<circle cx="65.18" cy="134.35" r="0.62" fill="#000"/>
<circle cx="65.41" cy="136.24" r="0.45" fill="#000"/>
<circle cx="65.93" cy="137.56" r="0.56" fill="#000"/>
<circle cx="67.77" cy="141.55" r="0.58" fill="#000"/>
<circle cx="70.43" cy="141.04" r="0.60" fill="#000"/>
<circle cx="73.44" cy="138.82" r="0.49" fill="#000"/>
<circle cx="73.98" cy="131.38" r="0.52" fill="#000"/>
<circle cx="74.98" cy="129.79" r="0.33" fill="#000"/>
<circle cx="76.20" cy="129.26" r="0.60" fill="#000"/>
<circle cx="77.71" cy="129.85" r="0.58" fill="#000"/>
<circle cx="78.99" cy="129.54" r="0.47" fill="#000"/>
<circle cx="82.06" cy="128.36" r="0.64" fill="#000"/>
<circle cx="82.99" cy="129.48" r="0.48" fill="#000"/>
<circle cx="83.32" cy="128.01" r="0.47" fill="#000"/>
<circle cx="84.71" cy="128.10" r="0.57" fill="#000"/>
<circle cx="85.23" cy="127.53" r="0.86" fill="#000"/>
<circle cx="87.05" cy="126.85" r="0.33" fill="#000"/>
<circle cx="87.76" cy="127.02" r="0.60" fill="#000"/>
<circle cx="88.49" cy="127.26" r="0.54" fill="#000"/>
<circle cx="89.75" cy="127.62" r="0.66" fill="#000"/>
<circle cx="90.22" cy="126.32" r="0.65" fill="#000"/>
<circle cx="90.94" cy="126.72" r="0.51" fill="#000"/>
<circle cx="91.66" cy="127.08" r="0.49" fill="#000"/>
<circle cx="93.65" cy="126.06" r="0.91" fill="#000"/>
<circle cx="94.51" cy="126.65" r="0.34" fill="#000"/>
<circle cx="94.91" cy="125.99" r="0.33" fill="#000"/>
<circle cx="96.01" cy="125.49" r="0.42" fill="#000"/>
<circle cx="97.29" cy="125.45" r="0.62" fill="#000"/>
<circle cx="98.60" cy="123.70" r="0.84" fill="#000"/>
<circle cx="99.80" cy="124.66" r="0.43" fill="#000"/>
<circle cx="99.58" cy="122.92" r="0.81" fill="#000"/>
<circle cx="101.19" cy="123.35" r="0.47" fill="#000"/>
<circle cx="187.6" cy="136.3" r="0.6" fill="#111"/>
<circle cx="189.7" cy="139.4" r="0.6" fill="#111"/>
<circle cx="182.4" cy="150.8" r="0.6" fill="#111"/>
<circle cx="184.5" cy="149.7" r="0.6" fill="#111"/>
<circle cx="188.7" cy="154.9" r="0.6" fill="#111"/>
<circle cx="185.5" cy="122.8" r="0.5" fill="#111"/>
<circle cx="205.6" cy="84.8" r="0.7" fill="#111"/>
<circle cx="212.4" cy="97.4" r="0.9" fill="#111"/>
<circle cx="207.5" cy="100.3" r="0.8" fill="#111"/>
<circle cx="209.5" cy="99" r="0.7" fill="#111"/>
<circle cx="223" cy="95.4" r="0.9" fill="#111"/>
<circle cx="216.2" cy="83.8" r="0.5" fill="#111"/>
<circle cx="248.2" cy="79.7" r="0.8" fill="#111"/>
<circle cx="247.5" cy="81.5" r="0.6" fill="#111"/>
<circle cx="137.2" cy="136.7" r="0.8" fill="#111"/>
<circle cx="164.7" cy="106.8" r="0.8" fill="#111"/>
<circle cx="164.3" cy="108" r="0.5" fill="#111"/>
<circle cx="105" cy="114.5" r="0.8" fill="#111"/>
<circle cx="107.5" cy="117.5" r="0.9" fill="#111"/>
<circle cx="110" cy="118" r="0.7" fill="#111"/>
<circle cx="103.6" cy="112.5" r="0.6" fill="#111"/>
<circle cx="194" cy="36" r="0.7" fill="#111"/>
<circle cx="83.6" cy="173.2" r="0.7" fill="#111"/>
<circle cx="196" cy="38" r="0.6" fill="#111"/>
<circle cx="197.5" cy="40.5" r="0.5" fill="#111"/>
<circle cx="194.5" cy="42" r="0.6" fill="#111"/>
<circle cx="102.79" cy="119.74" r="0.73" fill="#000"/>
<circle cx="100.75" cy="122.94" r="0.51" fill="#000"/>
<circle cx="104.19" cy="121.15" r="0.53" fill="#000"/>
<circle cx="110.09" cy="118.10" r="0.85" fill="#000"/>
<circle cx="105.84" cy="121.58" r="0.43" fill="#000"/>
<circle cx="114.39" cy="119.75" r="0.57" fill="#000"/>
<circle cx="100.59" cy="121.43" r="0.70" fill="#000"/>
<circle cx="104.02" cy="121.07" r="0.40" fill="#000"/>
<circle cx="108.36" cy="120.52" r="0.59" fill="#000"/>
<circle cx="112.22" cy="117.39" r="0.81" fill="#000"/>
<circle cx="102.20" cy="122.85" r="0.90" fill="#000"/>
<circle cx="116.91" cy="117.52" r="0.51" fill="#000"/>
<circle cx="106.26" cy="121.16" r="0.62" fill="#000"/>
<circle cx="116.74" cy="116.10" r="0.62" fill="#000"/>
<circle cx="115.55" cy="118.13" r="0.65" fill="#000"/>
<circle cx="101.59" cy="120.35" r="0.50" fill="#000"/>
<circle cx="116.08" cy="118.83" r="0.47" fill="#000"/>
<circle cx="116.64" cy="115.92" r="0.68" fill="#000"/>
<circle cx="117.41" cy="116.77" r="0.87" fill="#000"/>
<circle cx="111.82" cy="117.28" r="0.53" fill="#000"/>
<circle cx="108.09" cy="118.96" r="0.76" fill="#000"/>
<circle cx="103.22" cy="122.11" r="0.51" fill="#000"/>
<circle cx="101.25" cy="121.86" r="0.40" fill="#000"/>
<circle cx="109.93" cy="120.30" r="0.68" fill="#000"/>
<circle cx="108.31" cy="118.17" r="0.63" fill="#000"/>
<circle cx="101.75" cy="122.03" r="0.42" fill="#000"/>
<circle cx="29.6" cy="63.6" r="1.4" fill="none" stroke="#000" stroke-width="0.6"/>
<polyline points="127,158.5 133,160 140,157 150,150 160,142 166,136 171.6,132.3 173,126.8 174.8,119.9 175.1,113 174.4,104.7 171.4,97.8 165.2,88.1 158.3,83.3 139.4,62.6" fill="none" stroke="#000" stroke-width="1.15" stroke-linejoin="round" stroke-linecap="round" />
<circle cx="127" cy="158.5" r="1.4" fill="#000"/>
<circle cx="127.5" cy="162.8" r="1.4" fill="#000"/>
<circle cx="175.1" cy="114.4" r="1.4" fill="#000"/>
<circle cx="165.2" cy="88.1" r="1.4" fill="#000"/>
<circle cx="158.3" cy="83.3" r="1.4" fill="#000"/>
<circle cx="139.4" cy="62.6" r="1.4" fill="#000"/>
<polyline points="107.4,169.6 128.6,153.4 138.7,156.4 145.5,152.6 153.9,146.6 163.8,137.5 166.8,129.1 172.3,118.5 150.2,99.1" fill="none" stroke="#2b7b5a" stroke-width="1.5" stroke-linejoin="round" stroke-linecap="round" stroke-opacity="0.92"/>
<circle cx="107.4" cy="169.6" r="1.45" fill="#2b7b5a"/>
<circle cx="128.6" cy="153.4" r="1.45" fill="#2b7b5a"/>
<circle cx="138.7" cy="156.4" r="1.45" fill="#2b7b5a"/>
<circle cx="145.5" cy="152.6" r="1.45" fill="#2b7b5a"/>
<circle cx="153.9" cy="146.6" r="1.45" fill="#2b7b5a"/>
<circle cx="163.8" cy="137.5" r="1.45" fill="#2b7b5a"/>
<circle cx="166.8" cy="129.1" r="1.45" fill="#2b7b5a"/>
<circle cx="172.3" cy="118.5" r="1.45" fill="#2b7b5a"/>
<circle cx="150.2" cy="99.1" r="1.45" fill="#2b7b5a"/>
<polyline points="110.2,170.6 130.3,159.7 134.5,163.2 139.8,163.7 141.3,160.3 145.6,156.4 153.1,151.9 163.8,142.8 171.3,137.5 180,129.1 186.3,118 189.2,98.3 189.2,85.8 185.3,75.1 179.5,67.4 171.8,59.7" fill="none" stroke="#7f22ff" stroke-width="1.5" stroke-linejoin="round" stroke-linecap="round" stroke-opacity="0.92"/>
<circle cx="110.2" cy="170.6" r="1.45" fill="#7f22ff"/>
<circle cx="130.3" cy="159.7" r="1.45" fill="#7f22ff"/>
<circle cx="134.5" cy="163.2" r="1.45" fill="#7f22ff"/>
<circle cx="139.8" cy="163.7" r="1.45" fill="#7f22ff"/>
<circle cx="141.3" cy="160.3" r="1.45" fill="#7f22ff"/>
<circle cx="145.6" cy="156.4" r="1.45" fill="#7f22ff"/>
<circle cx="153.1" cy="151.9" r="1.45" fill="#7f22ff"/>
<circle cx="163.8" cy="142.8" r="1.45" fill="#7f22ff"/>
<circle cx="171.3" cy="137.5" r="1.45" fill="#7f22ff"/>
<circle cx="180" cy="129.1" r="1.45" fill="#7f22ff"/>
<circle cx="186.3" cy="118" r="1.45" fill="#7f22ff"/>
<circle cx="189.2" cy="98.3" r="1.45" fill="#7f22ff"/>
<circle cx="189.2" cy="85.8" r="1.45" fill="#7f22ff"/>
<circle cx="185.3" cy="75.1" r="1.45" fill="#7f22ff"/>
<circle cx="179.5" cy="67.4" r="1.45" fill="#7f22ff"/>
<circle cx="171.8" cy="59.7" r="1.45" fill="#7f22ff"/>
<polyline points="111,171.8 128.2,166.6 134.9,160.2 142.5,158 151.6,151.9 163.8,144.3 172.3,136.5 178,127 185.5,116.4 189.2,100.3 190.1,85.8 186.3,70.3 181.4,60.6" fill="none" stroke="#c41f5c" stroke-width="1.5" stroke-linejoin="round" stroke-linecap="round" stroke-opacity="0.92"/>
<circle cx="111" cy="171.8" r="1.45" fill="#c41f5c"/>
<circle cx="128.2" cy="166.6" r="1.45" fill="#c41f5c"/>
<circle cx="134.9" cy="160.2" r="1.45" fill="#c41f5c"/>
<circle cx="142.5" cy="158" r="1.45" fill="#c41f5c"/>
<circle cx="151.6" cy="151.9" r="1.45" fill="#c41f5c"/>
<circle cx="163.8" cy="144.3" r="1.45" fill="#c41f5c"/>
<circle cx="172.3" cy="136.5" r="1.45" fill="#c41f5c"/>
<circle cx="178" cy="127" r="1.45" fill="#c41f5c"/>
<circle cx="185.5" cy="116.4" r="1.45" fill="#c41f5c"/>
<circle cx="189.2" cy="100.3" r="1.45" fill="#c41f5c"/>
<circle cx="190.1" cy="85.8" r="1.45" fill="#c41f5c"/>
<circle cx="186.3" cy="70.3" r="1.45" fill="#c41f5c"/>
<circle cx="181.4" cy="60.6" r="1.45" fill="#c41f5c"/>
<polyline points="108,170.6 129,154.3 130.4,161.7 137.2,159.5 142.5,155.7 151.6,155.7 162.2,142.8 166.8,135.2 171.3,129.1 180,123 184.8,115.7 188.2,103.3 189.2,84.8 184.3,71.3 180.5,61.6 180.1,57.7" fill="none" stroke="#fb7b1f" stroke-width="1.5" stroke-linejoin="round" stroke-linecap="round" stroke-opacity="0.92"/>
<circle cx="108" cy="170.6" r="1.45" fill="#fb7b1f"/>
<circle cx="129" cy="154.3" r="1.45" fill="#fb7b1f"/>
<circle cx="130.4" cy="161.7" r="1.45" fill="#fb7b1f"/>
<circle cx="137.2" cy="159.5" r="1.45" fill="#fb7b1f"/>
<circle cx="142.5" cy="155.7" r="1.45" fill="#fb7b1f"/>
<circle cx="151.6" cy="155.7" r="1.45" fill="#fb7b1f"/>
<circle cx="162.2" cy="142.8" r="1.45" fill="#fb7b1f"/>
<circle cx="166.8" cy="135.2" r="1.45" fill="#fb7b1f"/>
<circle cx="171.3" cy="129.1" r="1.45" fill="#fb7b1f"/>
<circle cx="180" cy="123" r="1.45" fill="#fb7b1f"/>
<circle cx="184.8" cy="115.7" r="1.45" fill="#fb7b1f"/>
<circle cx="188.2" cy="103.3" r="1.45" fill="#fb7b1f"/>
<circle cx="189.2" cy="84.8" r="1.45" fill="#fb7b1f"/>
<circle cx="184.3" cy="71.3" r="1.45" fill="#fb7b1f"/>
<circle cx="180.5" cy="61.6" r="1.45" fill="#fb7b1f"/>
<circle cx="180.1" cy="57.7" r="1.45" fill="#fb7b1f"/>
<polyline points="110.9,171.2 128.2,166.6 131.6,163.1" fill="none" stroke="#fb7b1f" stroke-width="1.5" stroke-linejoin="round" stroke-linecap="round" stroke-opacity="0.92"/>
<circle cx="128.2" cy="166.6" r="1.5" fill="#c41f5c"/>
<circle cx="128.9" cy="153.9" r="1.5" fill="#c41f5c"/>
<rect x="27.4" y="32.4" width="223.4" height="141.6" fill="none" stroke="#555" stroke-width="0.9" />
<polyline points="26.1,42.5 27.4,42.5" fill="none" stroke="#333" stroke-width="0.6" stroke-linejoin="round" stroke-linecap="round" />
<text x="24.3" y="44.4" font-size="5.1" text-anchor="end" fill="#1a1a1a" font-family="'DejaVu Sans', 'Liberation Sans', sans-serif" >30°N</text>
<polyline points="26.1,93.05 27.4,93.05" fill="none" stroke="#333" stroke-width="0.6" stroke-linejoin="round" stroke-linecap="round" />
<text x="24.3" y="94.95" font-size="5.1" text-anchor="end" fill="#1a1a1a" font-family="'DejaVu Sans', 'Liberation Sans', sans-serif" >25°N</text>
<polyline points="26.1,143.6 27.4,143.6" fill="none" stroke="#333" stroke-width="0.6" stroke-linejoin="round" stroke-linecap="round" />
<text x="24.3" y="145.5" font-size="5.1" text-anchor="end" fill="#1a1a1a" font-family="'DejaVu Sans', 'Liberation Sans', sans-serif" >20°N</text>
<polyline points="68.4,174 68.4,175.3" fill="none" stroke="#333" stroke-width="0.6" stroke-linejoin="round" stroke-linecap="round" />
<text x="68.4" y="181.5" font-size="5.1" text-anchor="middle" fill="#1a1a1a" font-family="'DejaVu Sans', 'Liberation Sans', sans-serif" >110°E</text>
<polyline points="118.7,174 118.7,175.3" fill="none" stroke="#333" stroke-width="0.6" stroke-linejoin="round" stroke-linecap="round" />
<text x="118.7" y="181.5" font-size="5.1" text-anchor="middle" fill="#1a1a1a" font-family="'DejaVu Sans', 'Liberation Sans', sans-serif" >115°E</text>
<polyline points="169,174 169,175.3" fill="none" stroke="#333" stroke-width="0.6" stroke-linejoin="round" stroke-linecap="round" />
<text x="169" y="181.5" font-size="5.1" text-anchor="middle" fill="#1a1a1a" font-family="'DejaVu Sans', 'Liberation Sans', sans-serif" >120°E</text>
<polyline points="219.3,174 219.3,175.3" fill="none" stroke="#333" stroke-width="0.6" stroke-linejoin="round" stroke-linecap="round" />
<text x="219.3" y="181.5" font-size="5.1" text-anchor="middle" fill="#1a1a1a" font-family="'DejaVu Sans', 'Liberation Sans', sans-serif" >125°E</text>
<text x="139.6" y="189.8" font-size="7.1" text-anchor="middle" fill="#262626" font-family="'DejaVu Sans', 'Liberation Sans', sans-serif" >Longitude</text>
<text x="9.3" y="103.9" font-size="7.3" text-anchor="middle" fill="#262626" font-family="'DejaVu Sans', 'Liberation Sans', sans-serif" transform="rotate(-90 9.3 103.9)" >Latitude</text>
<rect x="206.6" y="34.4" width="41" height="38.6" fill="#fff" stroke="#d8d8d8" stroke-width="0.6" rx="1" fill-opacity="0.85"/>
<line x1="208.6" y1="39.3" x2="219.5" y2="39.3" stroke="#000" stroke-width="1.4"/>
<circle cx="214" cy="39.3" r="1.0" fill="#000"/>
<text x="223.3" y="41.3" font-size="5.4" text-anchor="start" fill="#262626" font-family="'DejaVu Sans', 'Liberation Sans', sans-serif" textLength="19.46" lengthAdjust="spacingAndGlyphs">ibtracks</text>
<line x1="208.6" y1="46.6" x2="219.5" y2="46.6" stroke="#2b7b5a" stroke-width="1.4"/>
<circle cx="214" cy="46.6" r="1.0" fill="#2b7b5a"/>
<text x="223.3" y="48.6" font-size="5.4" text-anchor="start" fill="#262626" font-family="'DejaVu Sans', 'Liberation Sans', sans-serif" textLength="22.08" lengthAdjust="spacingAndGlyphs">EXP-NON</text>
<line x1="208.6" y1="53.7" x2="219.5" y2="53.7" stroke="#c41f5c" stroke-width="1.4"/>
<circle cx="214" cy="53.7" r="1.0" fill="#c41f5c"/>
<text x="223.3" y="55.7" font-size="5.4" text-anchor="start" fill="#262626" font-family="'DejaVu Sans', 'Liberation Sans', sans-serif" textLength="22.62" lengthAdjust="spacingAndGlyphs">EXP-RAW</text>
<line x1="208.6" y1="60.9" x2="219.5" y2="60.9" stroke="#7f22ff" stroke-width="1.4"/>
<circle cx="214" cy="60.9" r="1.0" fill="#7f22ff"/>
<text x="223.3" y="62.9" font-size="5.4" text-anchor="start" fill="#262626" font-family="'DejaVu Sans', 'Liberation Sans', sans-serif" textLength="22.35" lengthAdjust="spacingAndGlyphs">EXP-MCD</text>
<line x1="208.6" y1="68.2" x2="219.5" y2="68.2" stroke="#fb7b1f" stroke-width="1.4"/>
<circle cx="214" cy="68.2" r="1.0" fill="#fb7b1f"/>
<text x="223.3" y="70.2" font-size="5.4" text-anchor="start" fill="#262626" font-family="'DejaVu Sans', 'Liberation Sans', sans-serif" textLength="21.90" lengthAdjust="spacingAndGlyphs">EXP-SVM</text></svg>
</body></html>
